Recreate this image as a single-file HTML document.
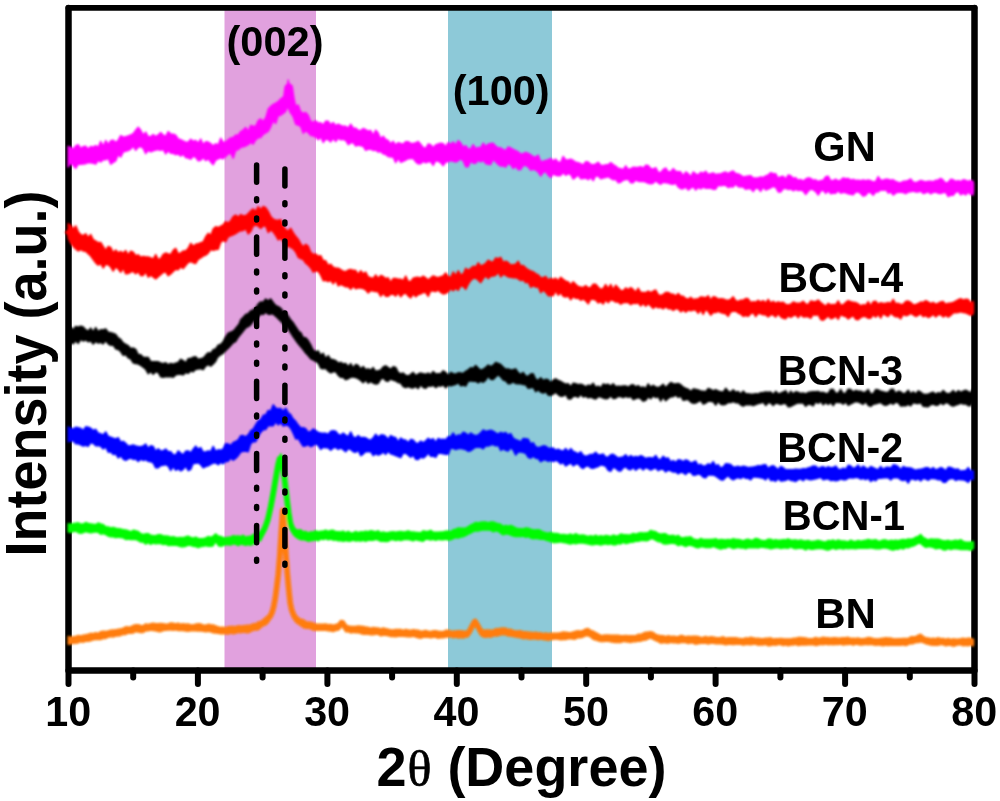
<!DOCTYPE html>
<html lang="en"><head><meta charset="utf-8"><title>XRD patterns</title>
<style>
html,body{margin:0;padding:0;background:#fff;}
body{width:1000px;height:801px;overflow:hidden;}
svg{display:block;}
text{font-family:"Liberation Sans",sans-serif;font-weight:bold;fill:#000;}
.th{font-family:"Liberation Serif","DejaVu Serif",serif;font-weight:normal;}
</style></head><body>
<svg width="1000" height="801" viewBox="0 0 1000 801">
<defs><filter id="soft" x="0" y="0" width="1000" height="801" filterUnits="userSpaceOnUse"><feGaussianBlur stdDeviation="0.8"/></filter></defs>
<rect x="0" y="0" width="1000" height="801" fill="#ffffff"/>
<rect x="224.5" y="8" width="91.5" height="662" fill="#e1a1de"/>
<rect x="448" y="8" width="104" height="662" fill="#8dc9d8"/>
<g stroke="#000" stroke-width="6.5" fill="none" stroke-linecap="round" stroke-linejoin="round">
<path d="M68.5 7.9V670.4H974.5V7.9"/>
<path d="M68.5 7.8H974.5" stroke-width="5.8"/>
</g>
<g filter="url(#soft)">
<path d="M68.2 640.0L69.7 640.0L71.2 639.9L72.7 639.7L74.2 639.6L75.7 639.4L77.2 639.3L78.7 639.1L80.2 639.0L81.7 638.8L83.2 638.7L84.7 638.5L86.2 638.3L87.7 638.0L89.2 637.7L90.7 637.4L92.2 637.1L93.7 636.8L95.2 636.5L96.7 636.2L98.2 635.9L99.7 635.6L101.2 635.3L102.7 635.0L104.2 634.7L105.7 634.4L107.2 634.1L108.7 633.8L110.2 633.5L111.7 633.2L113.2 632.9L114.7 632.6L116.2 632.3L117.7 632.0L119.2 631.7L120.7 631.4L122.2 631.1L123.7 630.8L125.2 630.6L126.7 630.3L128.2 630.1L129.7 629.8L131.2 629.6L132.7 629.4L134.2 629.1L135.7 628.9L137.2 628.7L138.7 628.6L140.2 628.4L141.7 628.2L143.2 628.0L144.7 627.8L146.2 627.7L147.7 627.5L149.2 627.5L150.7 627.5L152.2 627.5L153.7 627.5L155.2 627.5L156.7 627.5L158.2 627.5L159.7 627.5L161.2 627.4L162.7 627.3L164.2 627.2L165.7 627.0L167.2 626.9L168.7 626.8L170.2 626.7L171.7 626.6L173.2 626.6L174.7 626.7L176.2 626.8L177.7 626.9L179.2 627.0L180.7 627.2L182.2 627.3L183.7 627.4L185.2 627.5L186.7 627.5L188.2 627.5L189.7 627.5L191.2 627.5L192.7 627.5L194.2 627.5L195.7 627.5L197.2 627.5L198.7 627.6L200.2 627.7L201.7 627.8L203.2 628.0L204.7 628.1L206.2 628.2L207.7 628.3L209.2 628.4L210.7 628.6L212.2 628.8L213.7 628.9L215.2 629.1L216.7 629.3L218.2 629.5L219.7 629.7L221.2 629.8L222.7 630.0L224.2 630.0L225.7 630.0L227.2 630.0L228.7 630.0L230.2 630.0L231.7 630.0L233.2 630.0L234.7 630.0L236.2 629.9L237.7 629.7L239.2 629.5L240.7 629.3L242.2 629.1L243.7 629.0L245.2 628.8L246.7 628.6L248.2 628.3L249.7 627.9L251.2 627.5L252.7 627.1L254.2 626.7L255.7 626.3L257.2 625.9L258.7 625.1L260.2 624.4L261.7 623.6L263.2 622.7L264.7 621.6L266.2 620.6L267.7 619.2L269.2 617.5L270.7 615.5L272.2 611.9L273.7 606.5L275.2 598.5L276.7 587.3L278.2 574.8L279.7 557.1L281.2 533.7L282.7 510.5L284.2 530.0L285.7 551.5L287.2 572.4L288.7 588.9L290.2 603.0L291.7 610.1L293.2 614.1L294.7 617.2L296.2 618.9L297.7 620.7L299.2 621.7L300.7 622.6L302.2 623.5L303.7 624.2L305.2 624.6L306.7 625.1L308.2 625.5L309.7 625.9L311.2 626.2L312.7 626.5L314.2 626.8L315.7 627.1L317.2 627.4L318.7 627.5L320.2 627.6L321.7 627.6L323.2 627.6L324.7 627.7L326.2 627.7L327.7 627.7L329.2 627.8L330.7 627.8L332.2 627.9L333.7 627.9L335.2 627.9L336.7 628.0L338.2 627.7L339.7 625.5L341.2 623.2L342.7 623.1L344.2 625.6L345.7 628.0L347.2 628.6L348.7 628.8L350.2 628.9L351.7 629.1L353.2 629.2L354.7 629.4L356.2 629.6L357.7 629.7L359.2 629.9L360.7 630.0L362.2 630.2L363.7 630.3L365.2 630.5L366.7 630.7L368.2 630.8L369.7 631.0L371.2 631.1L372.7 631.2L374.2 631.3L375.7 631.4L377.2 631.5L378.7 631.6L380.2 631.7L381.7 631.8L383.2 631.9L384.7 632.0L386.2 632.2L387.7 632.3L389.2 632.4L390.7 632.5L392.2 632.6L393.7 632.7L395.2 632.8L396.7 632.9L398.2 633.0L399.7 633.1L401.2 633.2L402.7 633.3L404.2 633.4L405.7 633.5L407.2 633.6L408.7 633.6L410.2 633.6L411.7 633.7L413.2 633.7L414.7 633.8L416.2 633.8L417.7 633.9L419.2 633.9L420.7 633.9L422.2 634.0L423.7 634.0L425.2 634.1L426.7 634.1L428.2 634.2L429.7 634.2L431.2 634.2L432.7 634.3L434.2 634.3L435.7 634.4L437.2 634.4L438.7 634.5L440.2 634.5L441.7 634.5L443.2 634.4L444.7 634.4L446.2 634.4L447.7 634.4L449.2 634.3L450.7 634.3L452.2 634.3L453.7 634.3L455.2 634.2L456.7 634.2L458.2 634.2L459.7 634.1L461.2 634.1L462.7 634.1L464.2 634.1L465.7 634.0L467.2 634.0L468.7 632.7L470.2 629.9L471.7 627.1L473.2 624.3L474.7 621.6L476.2 623.2L477.7 626.0L479.2 628.8L480.7 631.6L482.2 634.0L483.7 633.9L485.2 633.8L486.7 633.6L488.2 633.5L489.7 633.4L491.2 633.3L492.7 633.2L494.2 633.1L495.7 632.8L497.2 632.5L498.7 632.1L500.2 631.7L501.7 631.3L503.2 631.1L504.7 631.5L506.2 632.0L507.7 632.5L509.2 632.9L510.7 633.4L512.2 633.6L513.7 633.8L515.2 633.9L516.7 634.1L518.2 634.3L519.7 634.4L521.2 634.6L522.7 634.7L524.2 634.9L525.7 635.0L527.2 635.2L528.7 635.3L530.2 635.5L531.7 635.6L533.2 635.8L534.7 635.9L536.2 636.1L537.7 636.3L539.2 636.4L540.7 636.6L542.2 636.7L543.7 636.9L545.2 637.0L546.7 636.9L548.2 636.8L549.7 636.7L551.2 636.7L552.7 636.6L554.2 636.5L555.7 636.4L557.2 636.3L558.7 636.3L560.2 636.2L561.7 636.1L563.2 636.0L564.7 635.9L566.2 635.9L567.7 635.8L569.2 635.7L570.7 635.6L572.2 635.5L573.7 635.4L575.2 635.0L576.7 634.7L578.2 634.4L579.7 634.1L581.2 633.6L582.7 633.0L584.2 632.5L585.7 632.0L587.2 631.6L588.7 632.6L590.2 633.6L591.7 634.5L593.2 635.5L594.7 636.2L596.2 636.7L597.7 637.2L599.2 637.7L600.7 638.0L602.2 638.1L603.7 638.2L605.2 638.3L606.7 638.4L608.2 638.5L609.7 638.6L611.2 638.7L612.7 638.8L614.2 638.9L615.7 639.0L617.2 638.9L618.7 638.9L620.2 638.8L621.7 638.7L623.2 638.7L624.7 638.6L626.2 638.6L627.7 638.5L629.2 638.4L630.7 638.4L632.2 638.3L633.7 638.3L635.2 638.2L636.7 638.1L638.2 638.1L639.7 638.0L641.2 637.7L642.7 637.2L644.2 636.8L645.7 636.4L647.2 635.9L648.7 635.5L650.2 635.1L651.7 635.5L653.2 636.0L654.7 636.6L656.2 637.2L657.7 637.7L659.2 638.3L660.7 638.9L662.2 639.0L663.7 639.1L665.2 639.1L666.7 639.2L668.2 639.2L669.7 639.3L671.2 639.3L672.7 639.4L674.2 639.4L675.7 639.5L677.2 639.5L678.7 639.5L680.2 639.6L681.7 639.6L683.2 639.7L684.7 639.7L686.2 639.8L687.7 639.8L689.2 639.9L690.7 639.9L692.2 640.0L693.7 640.0L695.2 640.0L696.7 640.1L698.2 640.1L699.7 640.2L701.2 640.2L702.7 640.3L704.2 640.3L705.7 640.4L707.2 640.4L708.7 640.5L710.2 640.5L711.7 640.5L713.2 640.5L714.7 640.6L716.2 640.6L717.7 640.6L719.2 640.6L720.7 640.7L722.2 640.7L723.7 640.7L725.2 640.7L726.7 640.7L728.2 640.8L729.7 640.8L731.2 640.8L732.7 640.8L734.2 640.8L735.7 640.9L737.2 640.9L738.7 640.9L740.2 640.9L741.7 641.0L743.2 641.0L744.7 641.0L746.2 641.0L747.7 641.0L749.2 641.1L750.7 641.1L752.2 641.1L753.7 641.1L755.2 641.1L756.7 641.2L758.2 641.2L759.7 641.2L761.2 641.2L762.7 641.3L764.2 641.3L765.7 641.3L767.2 641.3L768.7 641.3L770.2 641.4L771.7 641.4L773.2 641.4L774.7 641.4L776.2 641.4L777.7 641.5L779.2 641.5L780.7 641.5L782.2 641.5L783.7 641.5L785.2 641.5L786.7 641.5L788.2 641.5L789.7 641.5L791.2 641.5L792.7 641.5L794.2 641.5L795.7 641.5L797.2 641.5L798.7 641.5L800.2 641.5L801.7 641.5L803.2 641.5L804.7 641.5L806.2 641.5L807.7 641.5L809.2 641.5L810.7 641.5L812.2 641.5L813.7 641.5L815.2 641.5L816.7 641.5L818.2 641.5L819.7 641.5L821.2 641.5L822.7 641.5L824.2 641.5L825.7 641.5L827.2 641.5L828.7 641.5L830.2 641.5L831.7 641.5L833.2 641.5L834.7 641.5L836.2 641.5L837.7 641.5L839.2 641.5L840.7 641.5L842.2 641.5L843.7 641.5L845.2 641.5L846.7 641.5L848.2 641.5L849.7 641.5L851.2 641.5L852.7 641.5L854.2 641.5L855.7 641.5L857.2 641.5L858.7 641.5L860.2 641.5L861.7 641.5L863.2 641.5L864.7 641.5L866.2 641.5L867.7 641.5L869.2 641.5L870.7 641.5L872.2 641.5L873.7 641.5L875.2 641.5L876.7 641.5L878.2 641.5L879.7 641.5L881.2 641.5L882.7 641.5L884.2 641.5L885.7 641.5L887.2 641.5L888.7 641.5L890.2 641.5L891.7 641.5L893.2 641.5L894.7 641.5L896.2 641.5L897.7 641.5L899.2 641.5L900.7 641.5L902.2 641.5L903.7 641.5L905.2 641.5L906.7 641.4L908.2 641.1L909.7 640.8L911.2 640.5L912.7 640.2L914.2 639.9L915.7 639.3L917.2 638.7L918.7 638.0L920.2 637.6L921.7 638.4L923.2 639.1L924.7 639.9L926.2 640.5L927.7 640.8L929.2 641.0L930.7 641.3L932.2 641.5L933.7 641.5L935.2 641.5L936.7 641.6L938.2 641.6L939.7 641.6L941.2 641.6L942.7 641.6L944.2 641.6L945.7 641.7L947.2 641.7L948.7 641.7L950.2 641.7L951.7 641.7L953.2 641.7L954.7 641.8L956.2 641.8L957.7 641.8L959.2 641.8L960.7 641.8L962.2 641.9L963.7 641.9L965.2 641.9L966.7 641.9L968.2 641.9L969.7 641.9L971.2 642.0L972.7 642.0L974.2 642.0" fill="none" stroke="#ff7d0a" stroke-width="5.6" stroke-linejoin="round" stroke-linecap="butt"/>
<path d="M68.2 636.4L70.7 637.2L73.2 636.7L75.7 636.5L78.2 635.5L80.7 635.9L83.2 635.2L85.7 634.8L88.2 634.2L90.7 633.3L93.2 633.7L95.7 632.6L98.2 633.3L100.7 631.7L103.2 631.1L105.7 631.4L108.2 630.9L110.7 630.1L113.2 630.0L115.7 629.9L118.2 629.3L120.7 628.9L123.2 628.1L125.7 626.8L128.2 627.0L130.7 626.9L133.2 625.3L135.7 624.6L138.2 624.6L140.7 625.4L143.2 625.6L145.7 623.9L148.2 624.4L150.7 623.8L153.2 623.2L155.7 623.6L158.2 623.7L160.7 623.5L163.2 623.7L165.7 624.1L168.2 624.0L170.7 623.0L173.2 623.2L175.7 624.0L178.2 623.1L180.7 624.3L183.2 623.7L185.7 624.1L188.2 624.0L190.7 624.9L193.2 624.9L195.7 624.2L198.2 623.6L200.7 623.9L203.2 625.2L205.7 625.2L208.2 624.3L210.7 624.7L213.2 625.0L215.7 625.8L218.2 626.8L220.7 627.5L223.2 627.3L225.7 627.7L228.2 626.6L230.7 626.5L233.2 626.4L235.7 626.6L238.2 625.7L240.7 625.9L243.2 625.8L245.7 625.5L248.2 625.3L250.7 625.1L253.2 623.7L255.7 623.8L258.2 621.9L260.7 621.4L263.2 619.6L265.7 617.4L268.2 615.4L270.7 612.1L273.2 606.0L275.7 590.9L278.2 571.4L280.7 537.9L283.2 513.4L285.7 547.5L288.2 580.5L290.7 602.4L293.2 610.7L295.7 614.7L298.2 617.5L300.7 619.1L303.2 619.5L305.7 621.5L308.2 622.2L310.7 622.2L313.2 622.9L315.7 623.9L318.2 624.1L320.7 624.1L323.2 624.1L325.7 623.9L328.2 624.7L330.7 624.5L333.2 625.1L335.7 624.5L338.2 623.7L340.7 620.4L343.2 621.0L345.7 624.7L348.2 625.9L350.7 626.2L353.2 626.4L355.7 626.5L358.2 625.9L360.7 626.1L363.2 626.5L365.7 627.0L368.2 627.3L370.7 628.1L373.2 627.4L375.7 627.7L378.2 627.9L380.7 628.8L383.2 628.0L385.7 628.6L388.2 629.2L390.7 629.9L393.2 630.0L395.7 629.5L398.2 629.4L400.7 629.5L403.2 630.5L405.7 629.4L408.2 630.0L410.7 630.3L413.2 629.6L415.7 629.9L418.2 630.1L420.7 631.3L423.2 631.0L425.7 630.3L428.2 631.1L430.7 631.5L433.2 630.8L435.7 630.7L438.2 631.2L440.7 631.4L443.2 631.6L445.7 630.3L448.2 630.1L450.7 631.0L453.2 631.1L455.7 630.9L458.2 630.8L460.7 630.8L463.2 631.1L465.7 631.2L468.2 630.9L470.7 625.2L473.2 621.0L475.7 619.1L478.2 622.9L480.7 627.4L483.2 630.5L485.7 630.0L488.2 630.0L490.7 630.2L493.2 630.1L495.7 628.7L498.2 628.8L500.7 628.3L503.2 627.9L505.7 628.1L508.2 629.4L510.7 629.1L513.2 630.3L515.7 631.0L518.2 630.9L520.7 630.6L523.2 631.8L525.7 631.6L528.2 632.2L530.7 632.2L533.2 632.6L535.7 632.2L538.2 633.0L540.7 632.7L543.2 633.6L545.7 633.0L548.2 633.7L550.7 633.3L553.2 633.3L555.7 633.2L558.2 633.0L560.7 632.7L563.2 631.9L565.7 632.2L568.2 632.5L570.7 632.6L573.2 631.9L575.7 631.3L578.2 630.8L580.7 631.2L583.2 630.4L585.7 628.9L588.2 628.5L590.7 630.3L593.2 631.2L595.7 632.5L598.2 633.8L600.7 635.4L603.2 635.2L605.7 634.9L608.2 634.9L610.7 635.2L613.2 635.1L615.7 635.3L618.2 635.3L620.7 635.6L623.2 635.6L625.7 635.4L628.2 635.8L630.7 635.6L633.2 635.7L635.7 635.6L638.2 634.3L640.7 634.5L643.2 633.2L645.7 632.1L648.2 632.0L650.7 631.7L653.2 632.4L655.7 634.3L658.2 635.1L660.7 635.4L663.2 635.6L665.7 636.7L668.2 635.6L670.7 636.5L673.2 636.1L675.7 636.5L678.2 636.6L680.7 635.5L683.2 635.8L685.7 636.8L688.2 636.2L690.7 636.5L693.2 636.2L695.7 636.3L698.2 636.5L700.7 637.4L703.2 637.1L705.7 636.5L708.2 637.4L710.7 636.6L713.2 636.9L715.7 637.4L718.2 637.8L720.7 637.4L723.2 636.8L725.7 638.2L728.2 637.6L730.7 637.6L733.2 637.8L735.7 637.6L738.2 638.2L740.7 638.5L743.2 638.7L745.7 637.8L748.2 638.1L750.7 637.1L753.2 637.8L755.7 638.4L758.2 638.3L760.7 638.8L763.2 638.8L765.7 638.3L768.2 638.3L770.7 637.8L773.2 639.2L775.7 638.8L778.2 638.8L780.7 638.4L783.2 638.8L785.7 639.0L788.2 639.0L790.7 639.0L793.2 638.3L795.7 638.3L798.2 637.5L800.7 637.5L803.2 637.6L805.7 637.9L808.2 638.6L810.7 638.8L813.2 638.4L815.7 637.5L818.2 638.3L820.7 637.9L823.2 637.2L825.7 637.8L828.2 637.8L830.7 638.1L833.2 637.8L835.7 637.7L838.2 638.1L840.7 637.9L843.2 637.8L845.7 637.7L848.2 637.3L850.7 638.5L853.2 638.1L855.7 638.4L858.2 637.9L860.7 638.8L863.2 638.8L865.7 638.2L868.2 637.5L870.7 637.8L873.2 638.4L875.7 638.7L878.2 638.9L880.7 638.4L883.2 638.1L885.7 637.8L888.2 638.0L890.7 638.0L893.2 638.8L895.7 638.9L898.2 638.7L900.7 638.8L903.2 638.5L905.7 638.4L908.2 638.5L910.7 636.8L913.2 636.8L915.7 636.7L918.2 635.1L920.7 634.2L923.2 636.4L925.7 637.9L928.2 638.0L930.7 638.7L933.2 638.2L935.7 638.7L938.2 637.6L940.7 638.7L943.2 638.4L945.7 639.5L948.2 638.5L950.7 639.5L953.2 638.8L955.7 639.1L958.2 639.2L960.7 638.7L963.2 638.1L965.7 638.8L968.2 638.2L970.7 638.3L973.2 639.1L973.2 646.0L970.7 644.9L968.2 645.8L965.7 645.3L963.2 645.8L960.7 644.8L958.2 644.9L955.7 645.6L953.2 646.3L950.7 645.2L948.2 645.0L945.7 645.8L943.2 644.7L940.7 644.4L938.2 645.3L935.7 645.3L933.2 645.2L930.7 645.0L928.2 644.3L925.7 643.7L923.2 642.5L920.7 641.8L918.2 642.6L915.7 642.6L913.2 643.7L910.7 643.7L908.2 644.5L905.7 645.7L903.2 644.9L900.7 645.4L898.2 645.4L895.7 645.0L893.2 645.4L890.7 645.1L888.2 645.6L885.7 645.0L883.2 645.9L880.7 645.4L878.2 644.9L875.7 645.4L873.2 644.8L870.7 644.3L868.2 644.7L865.7 644.3L863.2 644.8L860.7 645.0L858.2 644.5L855.7 644.0L853.2 645.2L850.7 644.0L848.2 644.5L845.7 644.6L843.2 645.0L840.7 644.0L838.2 644.6L835.7 644.3L833.2 644.8L830.7 644.4L828.2 644.9L825.7 644.2L823.2 644.9L820.7 644.4L818.2 645.0L815.7 645.5L813.2 644.7L810.7 644.9L808.2 644.8L805.7 645.0L803.2 645.0L800.7 645.1L798.2 645.5L795.7 644.4L793.2 645.0L790.7 645.1L788.2 645.9L785.7 644.9L783.2 645.5L780.7 644.5L778.2 644.6L775.7 645.2L773.2 644.9L770.7 645.5L768.2 645.8L765.7 644.3L763.2 645.1L760.7 644.9L758.2 645.3L755.7 644.1L753.2 644.4L750.7 644.8L748.2 644.6L745.7 644.5L743.2 645.2L740.7 644.3L738.2 644.2L735.7 644.4L733.2 644.6L730.7 644.2L728.2 644.4L725.7 644.8L723.2 644.0L720.7 643.7L718.2 643.9L715.7 643.9L713.2 643.0L710.7 643.2L708.2 644.1L705.7 643.2L703.2 643.4L700.7 643.3L698.2 643.7L695.7 644.4L693.2 643.1L690.7 642.9L688.2 643.5L685.7 642.5L683.2 642.2L680.7 642.5L678.2 643.4L675.7 642.7L673.2 642.7L670.7 642.4L668.2 643.2L665.7 642.8L663.2 642.6L660.7 643.2L658.2 641.7L655.7 640.7L653.2 639.4L650.7 637.8L648.2 638.9L645.7 640.0L643.2 640.3L640.7 641.2L638.2 641.1L635.7 641.8L633.2 641.6L630.7 642.5L628.2 642.1L625.7 641.9L623.2 641.3L620.7 642.6L618.2 642.3L615.7 642.6L613.2 642.2L610.7 641.8L608.2 641.4L605.7 641.2L603.2 641.6L600.7 641.6L598.2 640.9L595.7 640.0L593.2 639.4L590.7 637.0L588.2 635.8L585.7 635.6L583.2 637.1L580.7 637.7L578.2 637.5L575.7 639.0L573.2 639.2L570.7 638.5L568.2 638.8L565.7 639.5L563.2 639.6L560.7 639.8L558.2 639.4L555.7 638.9L553.2 639.3L550.7 639.7L548.2 640.5L545.7 639.6L543.2 639.7L540.7 638.9L538.2 639.5L535.7 639.1L533.2 638.7L530.7 639.2L528.2 639.1L525.7 638.3L523.2 638.9L520.7 637.9L518.2 637.6L515.7 637.0L513.2 636.5L510.7 636.0L508.2 636.0L505.7 634.8L503.2 634.9L500.7 634.8L498.2 635.8L495.7 636.1L493.2 636.1L490.7 637.3L488.2 636.8L485.7 637.4L483.2 637.0L480.7 634.0L478.2 630.7L475.7 625.2L473.2 627.4L470.7 632.5L468.2 636.8L465.7 637.1L463.2 638.0L460.7 637.5L458.2 638.1L455.7 637.1L453.2 637.8L450.7 636.7L448.2 637.0L445.7 637.1L443.2 637.8L440.7 637.7L438.2 638.4L435.7 637.3L433.2 637.2L430.7 637.8L428.2 637.2L425.7 637.2L423.2 637.4L420.7 638.3L418.2 637.9L415.7 637.1L413.2 636.2L410.7 636.8L408.2 636.9L405.7 636.6L403.2 636.3L400.7 636.4L398.2 636.2L395.7 636.8L393.2 636.5L390.7 636.6L388.2 635.7L385.7 635.3L383.2 635.3L380.7 635.8L378.2 634.4L375.7 634.3L373.2 634.9L370.7 634.8L368.2 634.3L365.7 634.0L363.2 634.2L360.7 633.6L358.2 632.7L355.7 632.7L353.2 632.3L350.7 633.0L348.2 631.6L345.7 631.9L343.2 626.6L340.7 626.5L338.2 630.1L335.7 630.5L333.2 631.5L330.7 631.1L328.2 630.8L325.7 630.3L323.2 630.3L320.7 630.3L318.2 630.4L315.7 630.4L313.2 630.2L310.7 628.8L308.2 628.3L305.7 628.4L303.2 627.5L300.7 625.6L298.2 623.9L295.7 622.1L293.2 618.2L290.7 609.1L288.2 586.6L285.7 553.9L283.2 519.8L280.7 545.1L278.2 578.2L275.7 598.0L273.2 611.8L270.7 618.3L268.2 622.7L265.7 624.9L263.2 625.8L260.7 627.7L258.2 629.9L255.7 630.1L253.2 630.4L250.7 631.6L248.2 632.8L245.7 632.6L243.2 632.1L240.7 632.9L238.2 632.3L235.7 633.3L233.2 633.9L230.7 633.1L228.2 634.1L225.7 633.9L223.2 633.5L220.7 633.8L218.2 633.2L215.7 633.0L213.2 632.9L210.7 631.8L208.2 631.4L205.7 631.7L203.2 631.2L200.7 630.9L198.2 631.1L195.7 630.9L193.2 630.7L190.7 630.8L188.2 631.3L185.7 631.0L183.2 630.5L180.7 630.3L178.2 630.5L175.7 629.8L173.2 630.2L170.7 629.7L168.2 630.0L165.7 630.2L163.2 630.6L160.7 631.7L158.2 631.6L155.7 630.9L153.2 630.5L150.7 630.1L148.2 630.9L145.7 630.9L143.2 632.5L140.7 632.6L138.2 632.1L135.7 631.5L133.2 633.1L130.7 633.2L128.2 633.2L125.7 634.5L123.2 634.2L120.7 635.6L118.2 636.0L115.7 636.1L113.2 637.1L110.7 636.6L108.2 637.2L105.7 638.5L103.2 638.3L100.7 639.6L98.2 639.5L95.7 639.5L93.2 639.9L90.7 640.8L88.2 641.4L85.7 641.2L83.2 642.3L80.7 641.7L78.2 642.9L75.7 643.4L73.2 643.2L70.7 644.0L68.2 644.2Z" fill="#ff7d0a" stroke="#ff7d0a" stroke-width="1.4" stroke-linejoin="round"/>
<path d="M68.2 527.5L69.7 527.5L71.2 527.5L72.7 527.5L74.2 527.5L75.7 527.5L77.2 527.5L78.7 527.5L80.2 527.5L81.7 527.5L83.2 527.5L84.7 527.5L86.2 527.6L87.7 527.7L89.2 527.8L90.7 528.0L92.2 528.1L93.7 528.2L95.2 528.3L96.7 528.4L98.2 528.6L99.7 528.9L101.2 529.2L102.7 529.5L104.2 529.8L105.7 530.1L107.2 530.4L108.7 530.7L110.2 531.0L111.7 531.3L113.2 531.6L114.7 531.9L116.2 532.2L117.7 532.5L119.2 532.8L120.7 533.1L122.2 533.4L123.7 533.7L125.2 534.0L126.7 534.3L128.2 534.6L129.7 534.9L131.2 535.2L132.7 535.5L134.2 535.8L135.7 536.1L137.2 536.4L138.7 536.7L140.2 537.0L141.7 537.3L143.2 537.6L144.7 537.9L146.2 538.2L147.7 538.5L149.2 538.7L150.7 538.9L152.2 539.1L153.7 539.2L155.2 539.4L156.7 539.6L158.2 539.8L159.7 540.0L161.2 540.1L162.7 540.2L164.2 540.3L165.7 540.5L167.2 540.6L168.7 540.7L170.2 540.8L171.7 540.9L173.2 541.0L174.7 541.1L176.2 541.1L177.7 541.2L179.2 541.3L180.7 541.3L182.2 541.4L183.7 541.4L185.2 541.5L186.7 541.6L188.2 541.8L189.7 541.9L191.2 542.0L192.7 542.1L194.2 542.2L195.7 542.4L197.2 542.5L198.7 542.4L200.2 542.3L201.7 542.2L203.2 542.0L204.7 541.9L206.2 541.8L207.7 541.7L209.2 541.6L210.7 541.4L212.2 541.2L213.7 541.0L215.2 538.6L216.7 538.4L218.2 541.0L219.7 541.2L221.2 541.4L222.7 541.5L224.2 541.4L225.7 541.4L227.2 541.3L228.7 541.3L230.2 541.2L231.7 541.1L233.2 541.1L234.7 541.0L236.2 541.0L237.7 540.9L239.2 540.8L240.7 540.8L242.2 540.7L243.7 540.7L245.2 540.6L246.7 540.5L248.2 540.4L249.7 540.1L251.2 539.8L252.7 539.5L254.2 539.2L255.7 538.6L257.2 537.7L258.7 536.8L260.2 535.7L261.7 533.5L263.2 531.2L264.7 528.2L266.2 524.3L267.7 520.1L269.2 513.6L270.7 506.9L272.2 498.9L273.7 490.8L275.2 481.8L276.7 472.9L278.2 464.5L279.7 458.5L281.2 458.2L282.7 463.6L284.2 475.6L285.7 488.8L287.2 501.5L288.7 513.2L290.2 522.9L291.7 527.2L293.2 530.3L294.7 532.0L296.2 533.6L297.7 534.0L299.2 534.5L300.7 534.9L302.2 535.4L303.7 535.6L305.2 535.7L306.7 535.8L308.2 535.9L309.7 536.0L311.2 535.9L312.7 535.8L314.2 535.7L315.7 535.6L317.2 535.5L318.7 535.4L320.2 535.3L321.7 535.2L323.2 535.1L324.7 535.0L326.2 535.0L327.7 535.1L329.2 535.2L330.7 535.2L332.2 535.3L333.7 535.3L335.2 535.4L336.7 535.5L338.2 535.5L339.7 535.6L341.2 535.6L342.7 535.7L344.2 535.8L345.7 535.8L347.2 535.9L348.7 535.9L350.2 536.0L351.7 536.0L353.2 536.1L354.7 536.1L356.2 536.1L357.7 536.2L359.2 536.2L360.7 536.2L362.2 536.2L363.7 536.3L365.2 536.3L366.7 536.3L368.2 536.4L369.7 536.4L371.2 536.4L372.7 536.5L374.2 536.5L375.7 536.5L377.2 536.5L378.7 536.5L380.2 536.5L381.7 536.5L383.2 536.5L384.7 536.5L386.2 536.5L387.7 536.5L389.2 536.5L390.7 536.5L392.2 536.5L393.7 536.5L395.2 536.5L396.7 536.5L398.2 536.5L399.7 536.5L401.2 536.5L402.7 536.4L404.2 536.4L405.7 536.4L407.2 536.4L408.7 536.3L410.2 536.3L411.7 536.3L413.2 536.2L414.7 536.2L416.2 536.2L417.7 536.1L419.2 536.1L420.7 536.1L422.2 536.1L423.7 536.0L425.2 536.0L426.7 535.9L428.2 535.9L429.7 535.8L431.2 535.8L432.7 535.7L434.2 535.6L435.7 535.6L437.2 535.5L438.7 535.5L440.2 535.4L441.7 535.3L443.2 535.3L444.7 535.2L446.2 535.2L447.7 535.1L449.2 535.0L450.7 534.9L452.2 534.6L453.7 534.3L455.2 534.0L456.7 533.7L458.2 533.4L459.7 533.1L461.2 532.8L462.7 532.4L464.2 531.8L465.7 531.2L467.2 530.6L468.7 530.0L470.2 529.4L471.7 528.8L473.2 528.2L474.7 527.6L476.2 527.2L477.7 526.8L479.2 526.5L480.7 526.1L482.2 525.7L483.7 525.3L485.2 525.0L486.7 525.4L488.2 525.7L489.7 526.1L491.2 526.4L492.7 526.8L494.2 527.1L495.7 527.5L497.2 527.8L498.7 528.2L500.2 528.5L501.7 528.8L503.2 529.1L504.7 529.4L506.2 529.7L507.7 530.0L509.2 530.3L510.7 530.6L512.2 530.9L513.7 531.2L515.2 531.5L516.7 531.8L518.2 532.1L519.7 532.4L521.2 532.7L522.7 533.0L524.2 533.3L525.7 533.6L527.2 533.8L528.7 533.9L530.2 534.1L531.7 534.3L533.2 534.5L534.7 534.7L536.2 534.8L537.7 535.0L539.2 535.2L540.7 535.4L542.2 535.6L543.7 535.7L545.2 535.9L546.7 536.1L548.2 536.3L549.7 536.5L551.2 536.7L552.7 536.9L554.2 537.1L555.7 537.3L557.2 537.5L558.7 537.7L560.2 537.9L561.7 538.1L563.2 538.3L564.7 538.5L566.2 538.6L567.7 538.7L569.2 538.8L570.7 538.8L572.2 538.9L573.7 539.0L575.2 539.1L576.7 539.2L578.2 539.3L579.7 539.4L581.2 539.5L582.7 539.6L584.2 539.7L585.7 539.7L587.2 539.8L588.7 539.9L590.2 540.0L591.7 540.0L593.2 540.0L594.7 540.0L596.2 540.0L597.7 540.0L599.2 540.0L600.7 540.0L602.2 540.0L603.7 540.0L605.2 540.0L606.7 540.0L608.2 540.0L609.7 540.0L611.2 540.0L612.7 540.0L614.2 540.0L615.7 539.9L617.2 539.7L618.7 539.5L620.2 539.3L621.7 539.1L623.2 538.9L624.7 538.6L626.2 538.4L627.7 538.2L629.2 538.0L630.7 537.8L632.2 537.6L633.7 537.4L635.2 537.2L636.7 537.0L638.2 536.8L639.7 536.5L641.2 536.4L642.7 536.2L644.2 536.0L645.7 535.8L647.2 535.6L648.7 535.5L650.2 535.3L651.7 535.1L653.2 535.2L654.7 535.6L656.2 536.0L657.7 536.5L659.2 536.9L660.7 537.3L662.2 537.7L663.7 538.1L665.2 538.5L666.7 538.8L668.2 539.0L669.7 539.3L671.2 539.5L672.7 539.7L674.2 540.0L675.7 540.2L677.2 540.5L678.7 540.7L680.2 540.9L681.7 541.2L683.2 541.4L684.7 541.7L686.2 541.9L687.7 542.1L689.2 542.4L690.7 542.5L692.2 542.6L693.7 542.6L695.2 542.7L696.7 542.8L698.2 542.8L699.7 542.9L701.2 542.9L702.7 543.0L704.2 543.1L705.7 543.1L707.2 543.2L708.7 543.2L710.2 543.3L711.7 543.4L713.2 543.4L714.7 543.5L716.2 543.5L717.7 543.6L719.2 543.6L720.7 543.6L722.2 543.6L723.7 543.7L725.2 543.7L726.7 543.7L728.2 543.8L729.7 543.8L731.2 543.8L732.7 543.9L734.2 543.9L735.7 543.9L737.2 543.9L738.7 544.0L740.2 544.0L741.7 544.0L743.2 544.0L744.7 544.0L746.2 544.0L747.7 544.0L749.2 544.0L750.7 544.0L752.2 544.0L753.7 544.0L755.2 544.0L756.7 544.0L758.2 544.0L759.7 544.0L761.2 544.0L762.7 544.0L764.2 544.0L765.7 544.0L767.2 544.0L768.7 544.0L770.2 544.0L771.7 544.0L773.2 544.0L774.7 544.0L776.2 544.0L777.7 544.0L779.2 544.0L780.7 544.0L782.2 544.0L783.7 544.0L785.2 544.0L786.7 544.0L788.2 544.0L789.7 544.0L791.2 544.0L792.7 544.1L794.2 544.1L795.7 544.2L797.2 544.2L798.7 544.2L800.2 544.3L801.7 544.3L803.2 544.4L804.7 544.4L806.2 544.5L807.7 544.5L809.2 544.5L810.7 544.6L812.2 544.6L813.7 544.7L815.2 544.7L816.7 544.8L818.2 544.8L819.7 544.8L821.2 544.9L822.7 544.9L824.2 545.0L825.7 545.0L827.2 545.0L828.7 545.0L830.2 545.0L831.7 545.0L833.2 545.0L834.7 545.0L836.2 545.0L837.7 545.0L839.2 545.0L840.7 545.0L842.2 545.0L843.7 545.0L845.2 545.0L846.7 545.0L848.2 545.0L849.7 545.0L851.2 545.0L852.7 545.0L854.2 545.0L855.7 545.0L857.2 545.0L858.7 545.0L860.2 545.0L861.7 545.0L863.2 545.0L864.7 545.0L866.2 545.0L867.7 545.0L869.2 545.0L870.7 545.0L872.2 545.0L873.7 545.0L875.2 545.0L876.7 545.0L878.2 545.0L879.7 545.0L881.2 545.0L882.7 545.0L884.2 545.0L885.7 545.0L887.2 545.0L888.7 545.0L890.2 545.0L891.7 545.0L893.2 545.0L894.7 545.0L896.2 545.0L897.7 545.0L899.2 545.0L900.7 544.9L902.2 544.6L903.7 544.3L905.2 544.0L906.7 543.7L908.2 543.4L909.7 543.1L911.2 542.8L912.7 542.4L914.2 541.7L915.7 541.0L917.2 540.3L918.7 539.6L920.2 539.1L921.7 540.0L923.2 540.9L924.7 541.8L926.2 542.7L927.7 543.5L929.2 543.7L930.7 543.9L932.2 544.1L933.7 544.2L935.2 544.4L936.7 544.6L938.2 544.8L939.7 545.0L941.2 545.0L942.7 545.0L944.2 545.0L945.7 545.0L947.2 545.0L948.7 545.0L950.2 545.0L951.7 545.0L953.2 545.0L954.7 545.0L956.2 545.0L957.7 545.0L959.2 545.0L960.7 545.0L962.2 545.0L963.7 545.0L965.2 545.0L966.7 545.0L968.2 545.0L969.7 545.0L971.2 545.0L972.7 545.0L974.2 545.0" fill="none" stroke="#02fa02" stroke-width="5.8" stroke-linejoin="round" stroke-linecap="butt"/>
<path d="M68.2 523.6L70.7 524.1L73.2 523.6L75.7 523.3L78.2 522.8L80.7 524.1L83.2 524.0L85.7 522.5L88.2 523.5L90.7 523.9L93.2 524.3L95.7 524.6L98.2 523.0L100.7 523.9L103.2 524.6L105.7 526.7L108.2 526.9L110.7 528.0L113.2 527.3L115.7 528.1L118.2 528.8L120.7 529.0L123.2 529.8L125.7 530.0L128.2 530.6L130.7 531.9L133.2 530.3L135.7 530.8L138.2 531.5L140.7 533.6L143.2 534.5L145.7 533.8L148.2 533.7L150.7 535.3L153.2 535.8L155.7 535.6L158.2 534.7L160.7 534.7L163.2 535.9L165.7 535.9L168.2 536.1L170.7 537.1L173.2 536.7L175.7 537.5L178.2 537.8L180.7 537.4L183.2 537.7L185.7 536.8L188.2 536.2L190.7 537.3L193.2 538.1L195.7 537.1L198.2 538.4L200.7 538.7L203.2 538.6L205.7 537.9L208.2 536.5L210.7 537.4L213.2 536.0L215.7 533.9L218.2 536.0L220.7 536.5L223.2 537.7L225.7 537.6L228.2 537.1L230.7 536.9L233.2 535.7L235.7 536.1L238.2 535.9L240.7 536.5L243.2 535.2L245.7 537.2L248.2 536.4L250.7 536.2L253.2 534.5L255.7 533.8L258.2 533.4L260.7 531.2L263.2 527.5L265.7 522.1L268.2 513.4L270.7 501.7L273.2 489.7L275.7 474.1L278.2 461.5L280.7 453.7L283.2 463.0L285.7 484.2L288.2 505.4L290.7 519.9L293.2 525.9L295.7 529.3L298.2 530.1L300.7 529.7L303.2 531.7L305.7 531.4L308.2 533.0L310.7 531.9L313.2 532.0L315.7 530.7L318.2 531.8L320.7 531.1L323.2 531.1L325.7 530.1L328.2 531.4L330.7 530.4L333.2 530.3L335.7 531.7L338.2 531.6L340.7 532.0L343.2 531.1L345.7 532.9L348.2 531.3L350.7 532.9L353.2 532.9L355.7 531.4L358.2 532.6L360.7 531.7L363.2 531.9L365.7 531.1L368.2 531.7L370.7 530.7L373.2 531.3L375.7 531.9L378.2 530.7L380.7 532.7L383.2 531.9L385.7 532.7L388.2 532.5L390.7 532.0L393.2 531.7L395.7 532.3L398.2 531.7L400.7 531.5L403.2 531.9L405.7 531.6L408.2 530.8L410.7 532.0L413.2 531.9L415.7 532.2L418.2 532.4L420.7 532.9L423.2 530.8L425.7 531.5L428.2 531.4L430.7 530.3L433.2 532.0L435.7 532.1L438.2 532.1L440.7 532.0L443.2 531.9L445.7 531.1L448.2 531.0L450.7 531.8L453.2 529.7L455.7 529.3L458.2 527.9L460.7 528.2L463.2 528.3L465.7 528.2L468.2 526.7L470.7 525.0L473.2 523.8L475.7 522.4L478.2 523.0L480.7 522.1L483.2 522.0L485.7 521.9L488.2 523.0L490.7 522.0L493.2 521.9L495.7 522.8L498.2 523.8L500.7 524.3L503.2 526.3L505.7 525.5L508.2 526.1L510.7 525.4L513.2 526.4L515.7 527.8L518.2 528.7L520.7 528.6L523.2 528.9L525.7 528.0L528.2 528.2L530.7 529.2L533.2 530.0L535.7 529.9L538.2 529.7L540.7 530.5L543.2 532.0L545.7 532.7L548.2 533.1L550.7 532.3L553.2 533.5L555.7 533.4L558.2 533.7L560.7 534.8L563.2 534.4L565.7 534.8L568.2 534.9L570.7 534.0L573.2 535.3L575.7 533.7L578.2 534.9L580.7 535.1L583.2 534.9L585.7 535.7L588.2 536.4L590.7 535.7L593.2 536.5L595.7 535.1L598.2 536.7L600.7 535.6L603.2 536.3L605.7 535.5L608.2 535.8L610.7 536.5L613.2 535.0L615.7 535.9L618.2 535.7L620.7 534.0L623.2 534.4L625.7 534.7L628.2 535.0L630.7 534.7L633.2 533.4L635.7 534.2L638.2 533.3L640.7 532.7L643.2 532.9L645.7 532.8L648.2 532.5L650.7 530.4L653.2 531.3L655.7 531.8L658.2 533.4L660.7 534.2L663.2 533.7L665.7 533.7L668.2 535.5L670.7 535.7L673.2 535.3L675.7 536.4L678.2 535.4L680.7 537.5L683.2 538.0L685.7 537.1L688.2 537.3L690.7 536.7L693.2 538.9L695.7 539.5L698.2 540.0L700.7 538.4L703.2 539.4L705.7 539.4L708.2 539.5L710.7 539.4L713.2 539.3L715.7 538.6L718.2 540.2L720.7 539.5L723.2 539.7L725.7 539.9L728.2 539.5L730.7 539.9L733.2 538.7L735.7 539.5L738.2 539.4L740.7 540.0L743.2 540.9L745.7 539.7L748.2 539.1L750.7 540.3L753.2 539.9L755.7 538.3L758.2 539.0L760.7 540.1L763.2 540.4L765.7 540.6L768.2 539.1L770.7 539.2L773.2 540.4L775.7 539.6L778.2 540.3L780.7 540.2L783.2 539.6L785.7 540.0L788.2 539.0L790.7 540.1L793.2 540.2L795.7 540.0L798.2 540.7L800.7 539.9L803.2 540.6L805.7 541.0L808.2 540.4L810.7 541.4L813.2 541.3L815.7 540.9L818.2 540.3L820.7 541.0L823.2 541.6L825.7 541.9L828.2 540.5L830.7 540.9L833.2 540.0L835.7 541.3L838.2 539.9L840.7 541.0L843.2 541.0L845.7 541.1L848.2 541.8L850.7 540.1L853.2 541.1L855.7 541.5L858.2 540.5L860.7 541.2L863.2 540.7L865.7 540.3L868.2 539.4L870.7 540.2L873.2 540.2L875.7 539.7L878.2 541.2L880.7 541.0L883.2 540.0L885.7 540.0L888.2 541.1L890.7 540.3L893.2 540.6L895.7 540.3L898.2 540.7L900.7 540.0L903.2 539.5L905.7 539.9L908.2 538.9L910.7 539.1L913.2 538.8L915.7 537.2L918.2 536.5L920.7 534.4L923.2 537.4L925.7 538.6L928.2 540.0L930.7 539.0L933.2 539.3L935.7 539.2L938.2 539.1L940.7 540.0L943.2 540.8L945.7 540.9L948.2 540.3L950.7 541.2L953.2 540.8L955.7 540.3L958.2 540.6L960.7 539.7L963.2 541.3L965.7 542.1L968.2 542.2L970.7 542.0L973.2 541.4L973.2 548.6L970.7 550.4L968.2 549.6L965.7 549.6L963.2 549.3L960.7 549.5L958.2 549.0L955.7 548.7L953.2 548.9L950.7 549.6L948.2 548.7L945.7 550.0L943.2 549.9L940.7 548.2L938.2 548.4L935.7 548.8L933.2 547.5L930.7 546.9L928.2 546.7L925.7 547.3L923.2 545.6L920.7 543.4L918.2 543.4L915.7 544.9L913.2 546.0L910.7 546.7L908.2 547.9L905.7 547.4L903.2 549.1L900.7 548.2L898.2 549.4L895.7 549.0L893.2 550.2L890.7 549.5L888.2 548.5L885.7 548.0L883.2 547.9L880.7 548.7L878.2 548.6L875.7 548.9L873.2 548.4L870.7 547.8L868.2 548.3L865.7 548.4L863.2 548.2L860.7 548.2L858.2 548.3L855.7 548.7L853.2 548.5L850.7 548.4L848.2 548.7L845.7 548.3L843.2 549.2L840.7 548.3L838.2 548.5L835.7 549.4L833.2 548.2L830.7 549.0L828.2 550.0L825.7 549.7L823.2 548.9L820.7 548.6L818.2 548.5L815.7 548.7L813.2 549.4L810.7 549.4L808.2 548.4L805.7 550.0L803.2 548.6L800.7 548.1L798.2 548.2L795.7 548.8L793.2 548.2L790.7 546.8L788.2 548.3L785.7 548.0L783.2 548.0L780.7 548.5L778.2 547.5L775.7 547.7L773.2 548.3L770.7 548.9L768.2 548.0L765.7 547.8L763.2 547.4L760.7 547.0L758.2 548.0L755.7 547.5L753.2 547.7L750.7 547.9L748.2 547.6L745.7 548.9L743.2 547.8L740.7 548.0L738.2 547.4L735.7 548.0L733.2 548.7L730.7 547.3L728.2 546.7L725.7 548.3L723.2 548.3L720.7 549.2L718.2 548.4L715.7 547.3L713.2 546.3L710.7 547.5L708.2 547.3L705.7 547.6L703.2 546.9L700.7 546.9L698.2 547.8L695.7 547.4L693.2 546.0L690.7 545.3L688.2 545.4L685.7 546.5L683.2 545.4L680.7 544.5L678.2 545.7L675.7 543.8L673.2 543.4L670.7 543.2L668.2 543.8L665.7 544.0L663.2 543.7L660.7 541.9L658.2 541.7L655.7 540.3L653.2 538.9L650.7 538.7L648.2 540.5L645.7 540.8L643.2 540.4L640.7 540.6L638.2 541.4L635.7 541.4L633.2 542.2L630.7 542.0L628.2 543.0L625.7 543.5L623.2 542.4L620.7 544.0L618.2 543.5L615.7 544.8L613.2 544.9L610.7 543.8L608.2 544.6L605.7 543.9L603.2 544.4L600.7 545.0L598.2 544.3L595.7 544.2L593.2 544.9L590.7 544.7L588.2 544.0L585.7 543.6L583.2 543.0L580.7 542.9L578.2 543.0L575.7 543.8L573.2 543.1L570.7 544.0L568.2 543.5L565.7 542.9L563.2 542.5L560.7 541.8L558.2 542.4L555.7 542.5L553.2 542.5L550.7 541.7L548.2 540.8L545.7 540.0L543.2 539.2L540.7 539.2L538.2 538.8L535.7 538.2L533.2 538.7L530.7 538.1L528.2 536.7L525.7 537.4L523.2 536.2L520.7 536.5L518.2 536.5L515.7 536.6L513.2 536.0L510.7 535.2L508.2 534.0L505.7 533.8L503.2 534.8L500.7 533.3L498.2 531.4L495.7 530.8L493.2 531.8L490.7 530.2L488.2 530.1L485.7 529.7L483.2 530.0L480.7 530.3L478.2 531.0L475.7 530.8L473.2 531.7L470.7 533.2L468.2 534.2L465.7 535.7L463.2 536.7L460.7 537.1L458.2 538.1L455.7 537.6L453.2 538.6L450.7 539.9L448.2 540.0L445.7 539.2L443.2 539.8L440.7 539.8L438.2 539.4L435.7 540.3L433.2 539.3L430.7 540.1L428.2 539.3L425.7 539.3L423.2 541.3L420.7 540.8L418.2 540.4L415.7 539.5L413.2 540.9L410.7 540.0L408.2 539.5L405.7 539.4L403.2 539.9L400.7 540.6L398.2 539.9L395.7 540.6L393.2 539.7L390.7 539.6L388.2 541.4L385.7 541.6L383.2 541.0L380.7 541.4L378.2 540.1L375.7 539.3L373.2 540.3L370.7 540.1L368.2 540.2L365.7 541.3L363.2 540.4L360.7 541.2L358.2 540.5L355.7 541.1L353.2 540.2L350.7 541.1L348.2 541.2L345.7 540.5L343.2 541.4L340.7 540.6L338.2 540.9L335.7 539.9L333.2 540.2L330.7 539.1L328.2 539.9L325.7 538.7L323.2 539.7L320.7 538.9L318.2 540.9L315.7 539.8L313.2 540.6L310.7 540.9L308.2 541.3L305.7 540.2L303.2 539.6L300.7 539.7L298.2 538.7L295.7 536.9L293.2 534.5L290.7 528.1L288.2 513.3L285.7 493.8L283.2 473.7L280.7 462.8L278.2 469.1L275.7 484.4L273.2 497.7L270.7 510.4L268.2 521.7L265.7 529.6L263.2 535.8L260.7 540.8L258.2 541.1L255.7 543.6L253.2 543.6L250.7 545.4L248.2 544.7L245.7 545.4L243.2 544.7L240.7 544.0L238.2 545.7L235.7 544.2L233.2 543.9L230.7 545.1L228.2 544.7L225.7 544.7L223.2 545.5L220.7 546.4L218.2 545.5L215.7 541.2L213.2 545.7L210.7 546.3L208.2 546.4L205.7 545.6L203.2 546.2L200.7 546.5L198.2 547.6L195.7 546.5L193.2 546.4L190.7 545.4L188.2 545.2L185.7 546.3L183.2 546.9L180.7 546.7L178.2 545.9L175.7 545.2L173.2 545.4L170.7 545.3L168.2 545.5L165.7 544.1L163.2 544.6L160.7 543.6L158.2 543.3L155.7 543.8L153.2 543.0L150.7 544.4L148.2 542.7L145.7 544.1L143.2 541.9L140.7 542.1L138.2 540.7L135.7 539.3L133.2 539.6L130.7 539.6L128.2 539.1L125.7 539.5L123.2 537.9L120.7 537.5L118.2 537.0L115.7 537.7L113.2 536.8L110.7 536.9L108.2 536.1L105.7 534.5L103.2 533.6L100.7 534.3L98.2 532.2L95.7 531.9L93.2 532.3L90.7 532.8L88.2 532.3L85.7 531.6L83.2 532.7L80.7 533.2L78.2 532.7L75.7 531.0L73.2 531.6L70.7 532.5L68.2 531.9Z" fill="#02fa02" stroke="#02fa02" stroke-width="1.4" stroke-linejoin="round"/>
<path d="M68.2 435.0L69.7 435.0L71.2 435.1L72.7 435.2L74.2 435.3L75.7 435.4L77.2 435.5L78.7 435.6L80.2 435.7L81.7 435.8L83.2 435.9L84.7 436.0L86.2 436.2L87.7 436.5L89.2 436.8L90.7 437.1L92.2 437.4L93.7 437.7L95.2 438.0L96.7 438.3L98.2 438.7L99.7 439.2L101.2 439.7L102.7 440.2L104.2 440.6L105.7 441.1L107.2 441.6L108.7 442.1L110.2 442.6L111.7 443.3L113.2 444.0L114.7 444.8L116.2 445.5L117.7 446.2L119.2 446.9L120.7 447.6L122.2 448.4L123.7 448.9L125.2 449.4L126.7 449.8L128.2 450.3L129.7 450.8L131.2 451.3L132.7 451.8L134.2 452.2L135.7 452.7L137.2 453.0L138.7 453.4L140.2 453.7L141.7 454.1L143.2 454.5L144.7 454.8L146.2 455.2L147.7 455.5L149.2 455.8L150.7 456.0L152.2 456.3L153.7 456.5L155.2 456.7L156.7 457.0L158.2 457.2L159.7 457.5L161.2 457.6L162.7 457.8L164.2 458.0L165.7 458.2L167.2 458.4L168.7 458.5L170.2 458.7L171.7 458.9L173.2 459.0L174.7 458.9L176.2 458.9L177.7 458.8L179.2 458.7L180.7 458.7L182.2 458.6L183.7 458.6L185.2 458.5L186.7 458.4L188.2 458.4L189.7 458.3L191.2 458.3L192.7 458.2L194.2 458.1L195.7 458.1L197.2 458.0L198.7 457.9L200.2 457.7L201.7 457.5L203.2 457.3L204.7 457.1L206.2 457.0L207.7 456.8L209.2 456.6L210.7 456.4L212.2 456.2L213.7 456.1L215.2 455.9L216.7 455.7L218.2 455.5L219.7 455.3L221.2 455.2L222.7 454.9L224.2 454.5L225.7 454.0L227.2 453.5L228.7 453.0L230.2 452.5L231.7 452.1L233.2 451.6L234.7 451.1L236.2 450.0L237.7 448.8L239.2 447.6L240.7 446.4L242.2 445.2L243.7 444.0L245.2 442.8L246.7 441.6L248.2 440.2L249.7 438.6L251.2 437.0L252.7 435.4L254.2 433.8L255.7 432.1L257.2 430.5L258.7 428.9L260.2 427.3L261.7 426.0L263.2 424.7L264.7 423.4L266.2 422.0L267.7 420.7L269.2 419.4L270.7 418.1L272.2 416.8L273.7 416.3L275.2 416.0L276.7 415.7L278.2 415.4L279.7 415.1L281.2 415.7L282.7 416.6L284.2 417.5L285.7 418.4L287.2 419.3L288.7 420.2L290.2 421.2L291.7 423.0L293.2 424.8L294.7 426.6L296.2 428.4L297.7 430.2L299.2 432.0L300.7 433.3L302.2 434.0L303.7 434.6L305.2 435.3L306.7 435.9L308.2 436.6L309.7 437.3L311.2 437.9L312.7 438.5L314.2 438.8L315.7 439.1L317.2 439.4L318.7 439.7L320.2 440.0L321.7 440.3L323.2 440.6L324.7 440.9L326.2 441.0L327.7 441.1L329.2 441.2L330.7 441.2L332.2 441.3L333.7 441.3L335.2 441.4L336.7 441.5L338.2 441.6L339.7 441.9L341.2 442.1L342.7 442.3L344.2 442.6L345.7 442.8L347.2 443.1L348.7 443.3L350.2 443.5L351.7 443.7L353.2 443.9L354.7 444.1L356.2 444.2L357.7 444.4L359.2 444.6L360.7 444.8L362.2 445.0L363.7 445.1L365.2 445.2L366.7 445.3L368.2 445.5L369.7 445.6L371.2 445.7L372.7 445.8L374.2 445.9L375.7 446.0L377.2 446.1L378.7 446.1L380.2 446.2L381.7 446.3L383.2 446.3L384.7 446.4L386.2 446.4L387.7 446.5L389.2 446.8L390.7 447.0L392.2 447.3L393.7 447.5L395.2 447.7L396.7 448.0L398.2 448.2L399.7 448.5L401.2 448.5L402.7 448.5L404.2 448.5L405.7 448.5L407.2 448.5L408.7 448.5L410.2 448.5L411.7 448.5L413.2 448.4L414.7 448.3L416.2 448.2L417.7 448.1L419.2 448.0L420.7 447.8L422.2 447.7L423.7 447.6L425.2 447.5L426.7 447.5L428.2 447.5L429.7 447.5L431.2 447.5L432.7 447.5L434.2 447.5L435.7 447.5L437.2 447.5L438.7 447.2L440.2 446.7L441.7 446.3L443.2 445.9L444.7 445.5L446.2 445.1L447.7 444.6L449.2 444.2L450.7 443.8L452.2 443.5L453.7 443.1L455.2 442.8L456.7 442.4L458.2 442.0L459.7 441.7L461.2 441.3L462.7 441.0L464.2 440.9L465.7 440.7L467.2 440.6L468.7 440.5L470.2 440.4L471.7 440.3L473.2 440.1L474.7 440.0L476.2 439.9L477.7 439.8L479.2 439.7L480.7 439.5L482.2 439.4L483.7 439.3L485.2 439.2L486.7 439.1L488.2 439.1L489.7 439.2L491.2 439.3L492.7 439.4L494.2 439.5L495.7 439.7L497.2 439.8L498.7 439.9L500.2 440.1L501.7 440.5L503.2 440.9L504.7 441.3L506.2 441.7L507.7 442.2L509.2 442.6L510.7 443.0L512.2 443.4L513.7 444.0L515.2 444.6L516.7 445.2L518.2 445.8L519.7 446.4L521.2 447.0L522.7 447.6L524.2 448.2L525.7 448.7L527.2 449.2L528.7 449.7L530.2 450.2L531.7 450.6L533.2 451.1L534.7 451.6L536.2 452.1L537.7 452.5L539.2 452.8L540.7 453.0L542.2 453.3L543.7 453.5L545.2 453.7L546.7 454.0L548.2 454.2L549.7 454.5L551.2 454.7L552.7 455.0L554.2 455.3L555.7 455.6L557.2 455.9L558.7 456.2L560.2 456.5L561.7 456.8L563.2 457.1L564.7 457.4L566.2 457.7L567.7 457.9L569.2 458.1L570.7 458.3L572.2 458.5L573.7 458.7L575.2 458.9L576.7 459.1L578.2 459.3L579.7 459.6L581.2 459.8L582.7 460.0L584.2 460.2L585.7 460.4L587.2 460.6L588.7 460.8L590.2 461.0L591.7 461.0L593.2 461.1L594.7 461.1L596.2 461.1L597.7 461.2L599.2 461.2L600.7 461.2L602.2 461.2L603.7 461.3L605.2 461.3L606.7 461.3L608.2 461.4L609.7 461.4L611.2 461.4L612.7 461.5L614.2 461.5L615.7 461.5L617.2 461.6L618.7 461.6L620.2 461.7L621.7 461.8L623.2 461.8L624.7 461.9L626.2 461.9L627.7 462.0L629.2 462.1L630.7 462.1L632.2 462.2L633.7 462.2L635.2 462.3L636.7 462.4L638.2 462.4L639.7 462.5L641.2 462.6L642.7 462.8L644.2 462.9L645.7 463.1L647.2 463.2L648.7 463.4L650.2 463.5L651.7 463.7L653.2 463.8L654.7 464.0L656.2 464.1L657.7 464.3L659.2 464.4L660.7 464.6L662.2 464.7L663.7 464.9L665.2 465.0L666.7 465.2L668.2 465.4L669.7 465.7L671.2 465.9L672.7 466.1L674.2 466.3L675.7 466.5L677.2 466.7L678.7 466.9L680.2 467.1L681.7 467.3L683.2 467.5L684.7 467.8L686.2 468.0L687.7 468.2L689.2 468.4L690.7 468.6L692.2 468.7L693.7 468.9L695.2 469.0L696.7 469.2L698.2 469.3L699.7 469.5L701.2 469.6L702.7 469.8L704.2 469.9L705.7 470.1L707.2 470.2L708.7 470.4L710.2 470.5L711.7 470.7L713.2 470.8L714.7 471.0L716.2 471.1L717.7 471.2L719.2 471.3L720.7 471.3L722.2 471.4L723.7 471.5L725.2 471.6L726.7 471.7L728.2 471.8L729.7 471.9L731.2 472.0L732.7 472.1L734.2 472.2L735.7 472.2L737.2 472.3L738.7 472.4L740.2 472.5L741.7 472.6L743.2 472.6L744.7 472.7L746.2 472.7L747.7 472.8L749.2 472.9L750.7 472.9L752.2 473.0L753.7 473.0L755.2 473.1L756.7 473.2L758.2 473.2L759.7 473.3L761.2 473.3L762.7 473.4L764.2 473.5L765.7 473.5L767.2 473.5L768.7 473.5L770.2 473.5L771.7 473.5L773.2 473.5L774.7 473.5L776.2 473.5L777.7 473.5L779.2 473.5L780.7 473.5L782.2 473.5L783.7 473.5L785.2 473.5L786.7 473.5L788.2 473.5L789.7 473.5L791.2 473.5L792.7 473.5L794.2 473.5L795.7 473.5L797.2 473.5L798.7 473.5L800.2 473.5L801.7 473.5L803.2 473.5L804.7 473.5L806.2 473.5L807.7 473.5L809.2 473.5L810.7 473.5L812.2 473.5L813.7 473.5L815.2 473.5L816.7 473.5L818.2 473.5L819.7 473.5L821.2 473.5L822.7 473.5L824.2 473.5L825.7 473.5L827.2 473.5L828.7 473.5L830.2 473.5L831.7 473.5L833.2 473.6L834.7 473.6L836.2 473.6L837.7 473.6L839.2 473.6L840.7 473.6L842.2 473.6L843.7 473.6L845.2 473.6L846.7 473.6L848.2 473.7L849.7 473.7L851.2 473.7L852.7 473.7L854.2 473.7L855.7 473.7L857.2 473.7L858.7 473.7L860.2 473.7L861.7 473.7L863.2 473.8L864.7 473.8L866.2 473.8L867.7 473.8L869.2 473.8L870.7 473.8L872.2 473.8L873.7 473.8L875.2 473.8L876.7 473.8L878.2 473.9L879.7 473.9L881.2 473.9L882.7 473.9L884.2 473.9L885.7 473.9L887.2 473.9L888.7 473.9L890.2 473.9L891.7 473.9L893.2 474.0L894.7 474.0L896.2 474.0L897.7 474.0L899.2 474.0L900.7 474.0L902.2 474.0L903.7 474.0L905.2 474.1L906.7 474.1L908.2 474.1L909.7 474.1L911.2 474.1L912.7 474.2L914.2 474.2L915.7 474.2L917.2 474.2L918.7 474.2L920.2 474.3L921.7 474.3L923.2 474.3L924.7 474.3L926.2 474.3L927.7 474.4L929.2 474.4L930.7 474.4L932.2 474.4L933.7 474.4L935.2 474.5L936.7 474.5L938.2 474.5L939.7 474.5L941.2 474.5L942.7 474.6L944.2 474.6L945.7 474.6L947.2 474.6L948.7 474.6L950.2 474.7L951.7 474.7L953.2 474.7L954.7 474.7L956.2 474.7L957.7 474.8L959.2 474.8L960.7 474.8L962.2 474.8L963.7 474.8L965.2 474.9L966.7 474.9L968.2 474.9L969.7 474.9L971.2 474.9L972.7 475.0L974.2 475.0" fill="none" stroke="#0000ff" stroke-width="9.0" stroke-linejoin="round" stroke-linecap="butt"/>
<path d="M68.2 426.9L70.7 428.4L73.2 429.0L75.7 427.3L78.2 427.7L80.7 428.4L83.2 430.6L85.7 426.8L88.2 427.2L90.7 428.2L93.2 430.5L95.7 429.3L98.2 433.2L100.7 433.8L103.2 434.9L105.7 431.9L108.2 436.4L110.7 437.2L113.2 438.2L115.7 439.0L118.2 437.7L120.7 442.1L123.2 441.3L125.7 443.3L128.2 446.2L130.7 445.6L133.2 445.0L135.7 445.9L138.2 446.5L140.7 446.6L143.2 446.0L145.7 444.0L148.2 448.3L150.7 445.8L153.2 446.4L155.7 451.3L158.2 448.7L160.7 451.1L163.2 450.8L165.7 449.1L168.2 451.8L170.7 451.7L173.2 454.8L175.7 455.1L178.2 450.9L180.7 453.0L183.2 454.9L185.7 451.1L188.2 450.9L190.7 452.8L193.2 449.1L195.7 446.1L198.2 449.2L200.7 447.5L203.2 452.0L205.7 451.9L208.2 450.8L210.7 451.6L213.2 446.4L215.7 451.4L218.2 449.8L220.7 450.3L223.2 448.9L225.7 443.6L228.2 444.0L230.7 445.4L233.2 442.5L235.7 441.3L238.2 439.9L240.7 435.6L243.2 435.5L245.7 436.9L248.2 435.1L250.7 430.7L253.2 429.0L255.7 424.7L258.2 420.8L260.7 419.7L263.2 415.3L265.7 414.8L268.2 410.4L270.7 411.1L273.2 404.8L275.7 407.9L278.2 408.8L280.7 408.5L283.2 411.2L285.7 408.2L288.2 412.7L290.7 414.6L293.2 419.3L295.7 421.2L298.2 426.0L300.7 428.1L303.2 427.7L305.7 428.7L308.2 432.4L310.7 431.4L313.2 428.9L315.7 430.5L318.2 432.4L320.7 433.0L323.2 433.2L325.7 433.2L328.2 434.3L330.7 431.3L333.2 430.8L335.7 431.3L338.2 434.3L340.7 435.2L343.2 433.0L345.7 435.0L348.2 436.7L350.7 431.9L353.2 437.0L355.7 438.0L358.2 435.4L360.7 437.7L363.2 437.5L365.7 437.8L368.2 439.3L370.7 440.3L373.2 437.8L375.7 434.2L378.2 437.3L380.7 435.0L383.2 434.9L385.7 436.4L388.2 439.3L390.7 435.5L393.2 437.0L395.7 437.6L398.2 441.8L400.7 438.0L403.2 439.8L405.7 440.1L408.2 442.7L410.7 439.5L413.2 439.9L415.7 442.9L418.2 443.6L420.7 441.1L423.2 442.7L425.7 440.9L428.2 438.3L430.7 440.1L433.2 438.7L435.7 442.3L438.2 438.4L440.7 439.7L443.2 439.1L445.7 439.8L448.2 436.7L450.7 436.4L453.2 432.9L455.7 436.9L458.2 434.9L460.7 435.3L463.2 432.2L465.7 433.2L468.2 435.4L470.7 432.9L473.2 434.7L475.7 435.7L478.2 434.9L480.7 432.8L483.2 429.9L485.7 431.4L488.2 430.8L490.7 430.1L493.2 431.1L495.7 432.8L498.2 434.1L500.7 432.3L503.2 433.4L505.7 432.5L508.2 434.9L510.7 433.6L513.2 438.2L515.7 439.6L518.2 440.4L520.7 441.8L523.2 438.4L525.7 438.8L528.2 439.1L530.7 443.9L533.2 442.7L535.7 446.6L538.2 447.6L540.7 446.8L543.2 445.8L545.7 446.1L548.2 448.3L550.7 448.2L553.2 448.0L555.7 450.3L558.2 449.1L560.7 450.5L563.2 451.2L565.7 448.5L568.2 451.7L570.7 448.6L573.2 451.3L575.7 452.4L578.2 453.8L580.7 451.7L583.2 455.2L585.7 456.3L588.2 455.5L590.7 454.4L593.2 454.4L595.7 452.2L598.2 454.9L600.7 454.8L603.2 454.0L605.7 457.1L608.2 457.1L610.7 454.8L613.2 454.3L615.7 456.1L618.2 458.0L620.7 457.3L623.2 456.9L625.7 454.7L628.2 457.7L630.7 455.5L633.2 457.4L635.7 456.5L638.2 457.1L640.7 455.6L643.2 456.7L645.7 458.5L648.2 457.7L650.7 457.6L653.2 458.2L655.7 455.4L658.2 459.2L660.7 459.4L663.2 456.3L665.7 458.5L668.2 457.9L670.7 461.9L673.2 460.5L675.7 462.4L678.2 459.6L680.7 460.2L683.2 461.7L685.7 459.8L688.2 460.7L690.7 463.0L693.2 462.1L695.7 461.0L698.2 465.5L700.7 464.2L703.2 466.5L705.7 465.9L708.2 463.8L710.7 464.8L713.2 461.6L715.7 465.8L718.2 464.5L720.7 468.5L723.2 466.9L725.7 463.6L728.2 463.9L730.7 464.4L733.2 466.9L735.7 466.9L738.2 466.3L740.7 467.2L743.2 466.2L745.7 466.7L748.2 467.7L750.7 467.3L753.2 467.0L755.7 466.5L758.2 465.7L760.7 465.9L763.2 464.9L765.7 464.6L768.2 468.6L770.7 466.3L773.2 465.6L775.7 467.6L778.2 469.7L780.7 466.5L783.2 467.7L785.7 469.8L788.2 469.8L790.7 470.4L793.2 469.7L795.7 469.1L798.2 469.4L800.7 469.4L803.2 468.6L805.7 469.0L808.2 468.0L810.7 467.1L813.2 466.0L815.7 466.1L818.2 468.6L820.7 467.3L823.2 466.7L825.7 468.3L828.2 466.7L830.7 467.8L833.2 467.5L835.7 466.0L838.2 469.1L840.7 469.7L843.2 468.2L845.7 469.3L848.2 465.3L850.7 465.9L853.2 468.5L855.7 467.5L858.2 465.1L860.7 468.7L863.2 466.0L865.7 467.9L868.2 469.2L870.7 466.4L873.2 467.6L875.7 468.9L878.2 469.7L880.7 466.4L883.2 469.4L885.7 467.5L888.2 467.1L890.7 468.1L893.2 464.8L895.7 465.2L898.2 466.6L900.7 469.7L903.2 466.5L905.7 467.6L908.2 467.8L910.7 467.9L913.2 469.2L915.7 470.4L918.2 469.5L920.7 469.3L923.2 468.7L925.7 467.7L928.2 467.7L930.7 469.6L933.2 467.6L935.7 469.9L938.2 469.0L940.7 467.5L943.2 468.6L945.7 471.0L948.2 467.2L950.7 467.5L953.2 468.6L955.7 469.5L958.2 469.0L960.7 472.1L963.2 470.8L965.7 470.4L968.2 467.6L970.7 470.7L973.2 471.3L973.2 479.2L970.7 479.6L968.2 482.4L965.7 480.7L963.2 479.9L960.7 479.8L958.2 479.2L955.7 480.6L953.2 478.3L950.7 478.4L948.2 479.6L945.7 482.3L943.2 482.2L940.7 479.5L938.2 479.8L935.7 478.8L933.2 478.5L930.7 478.3L928.2 480.4L925.7 479.0L923.2 478.3L920.7 481.1L918.2 478.8L915.7 480.0L913.2 479.0L910.7 479.0L908.2 483.2L905.7 479.7L903.2 480.5L900.7 479.9L898.2 477.4L895.7 476.9L893.2 477.4L890.7 480.1L888.2 477.4L885.7 477.3L883.2 477.5L880.7 478.3L878.2 478.0L875.7 480.8L873.2 479.7L870.7 481.5L868.2 478.2L865.7 479.7L863.2 478.4L860.7 479.3L858.2 477.5L855.7 476.8L853.2 478.1L850.7 477.5L848.2 478.1L845.7 479.9L843.2 479.9L840.7 478.8L838.2 480.4L835.7 480.9L833.2 480.0L830.7 480.6L828.2 478.8L825.7 479.0L823.2 479.8L820.7 477.3L818.2 478.0L815.7 478.9L813.2 479.3L810.7 479.7L808.2 479.3L805.7 478.3L803.2 480.7L800.7 478.9L798.2 479.7L795.7 481.5L793.2 480.7L790.7 480.3L788.2 478.9L785.7 480.4L783.2 480.9L780.7 481.1L778.2 478.5L775.7 481.4L773.2 480.2L770.7 480.5L768.2 476.6L765.7 479.9L763.2 478.2L760.7 477.7L758.2 477.3L755.7 476.6L753.2 476.9L750.7 479.9L748.2 478.4L745.7 478.3L743.2 476.6L740.7 478.6L738.2 477.7L735.7 478.4L733.2 479.8L730.7 478.5L728.2 475.5L725.7 477.6L723.2 480.0L720.7 479.8L718.2 478.0L715.7 476.1L713.2 474.8L710.7 475.1L708.2 474.7L705.7 477.9L703.2 477.3L700.7 474.8L698.2 473.9L695.7 475.0L693.2 475.4L690.7 472.2L688.2 471.7L685.7 474.6L683.2 472.8L680.7 472.1L678.2 473.9L675.7 471.7L673.2 472.0L670.7 470.8L668.2 470.0L665.7 472.0L663.2 469.3L660.7 469.2L658.2 470.7L655.7 467.9L653.2 468.9L650.7 470.2L648.2 468.6L645.7 467.5L643.2 470.0L640.7 467.6L638.2 468.3L635.7 470.3L633.2 467.4L630.7 469.8L628.2 469.3L625.7 466.7L623.2 468.1L620.7 471.0L618.2 470.7L615.7 468.3L613.2 467.3L610.7 471.3L608.2 470.3L605.7 466.3L603.2 465.4L600.7 464.4L598.2 466.7L595.7 467.4L593.2 468.4L590.7 468.0L588.2 465.8L585.7 466.2L583.2 468.6L580.7 467.2L578.2 463.8L575.7 464.1L573.2 465.9L570.7 462.8L568.2 464.5L565.7 466.0L563.2 462.5L560.7 464.0L558.2 461.4L555.7 460.3L553.2 461.5L550.7 460.5L548.2 461.4L545.7 459.8L543.2 460.1L540.7 461.7L538.2 458.5L535.7 458.3L533.2 456.1L530.7 458.3L528.2 457.3L525.7 453.3L523.2 452.6L520.7 451.9L518.2 452.1L515.7 455.1L513.2 450.1L510.7 447.7L508.2 451.1L505.7 450.3L503.2 448.8L500.7 450.5L498.2 445.3L495.7 446.0L493.2 444.6L490.7 445.1L488.2 446.0L485.7 445.9L483.2 448.8L480.7 447.4L478.2 447.0L475.7 447.2L473.2 448.9L470.7 450.7L468.2 451.3L465.7 449.7L463.2 449.0L460.7 448.3L458.2 448.7L455.7 449.6L453.2 448.4L450.7 448.3L448.2 454.4L445.7 454.2L443.2 453.7L440.7 453.3L438.2 453.3L435.7 457.4L433.2 456.2L430.7 456.4L428.2 453.1L425.7 456.2L423.2 458.1L420.7 457.2L418.2 459.5L415.7 459.4L413.2 455.2L410.7 457.3L408.2 455.1L405.7 453.3L403.2 453.4L400.7 457.6L398.2 456.7L395.7 455.7L393.2 454.5L390.7 453.9L388.2 451.3L385.7 454.4L383.2 452.0L380.7 454.2L378.2 455.2L375.7 453.7L373.2 455.6L370.7 451.6L368.2 451.9L365.7 451.5L363.2 454.1L360.7 455.7L358.2 450.3L355.7 452.4L353.2 451.8L350.7 449.5L348.2 448.7L345.7 451.8L343.2 449.7L340.7 447.9L338.2 449.5L335.7 447.4L333.2 448.0L330.7 450.3L328.2 447.9L325.7 447.7L323.2 447.3L320.7 449.4L318.2 445.5L315.7 443.9L313.2 445.5L310.7 446.7L308.2 444.6L305.7 445.9L303.2 446.4L300.7 442.6L298.2 438.5L295.7 439.0L293.2 433.2L290.7 428.3L288.2 425.6L285.7 425.1L283.2 426.0L280.7 422.5L278.2 424.9L275.7 422.1L273.2 425.8L270.7 425.7L268.2 425.7L265.7 429.6L263.2 429.3L260.7 431.8L258.2 437.0L255.7 441.7L253.2 441.5L250.7 443.7L248.2 451.9L245.7 451.2L243.2 451.4L240.7 452.2L238.2 455.8L235.7 458.5L233.2 460.2L230.7 458.1L228.2 461.3L225.7 461.5L223.2 463.8L220.7 462.4L218.2 464.7L215.7 462.9L213.2 463.1L210.7 464.4L208.2 465.9L205.7 466.6L203.2 467.8L200.7 464.8L198.2 462.8L195.7 463.4L193.2 463.5L190.7 469.4L188.2 470.7L185.7 466.2L183.2 469.4L180.7 470.9L178.2 468.7L175.7 470.3L173.2 466.6L170.7 470.6L168.2 466.1L165.7 464.6L163.2 465.2L160.7 465.6L158.2 467.8L155.7 467.9L153.2 463.0L150.7 461.7L148.2 461.4L145.7 459.6L143.2 460.5L140.7 459.2L138.2 461.4L135.7 458.9L133.2 459.5L130.7 458.0L128.2 458.9L125.7 460.4L123.2 459.1L120.7 455.9L118.2 457.9L115.7 453.9L113.2 454.5L110.7 451.7L108.2 452.3L105.7 447.0L103.2 449.0L100.7 446.2L98.2 445.6L95.7 445.7L93.2 443.2L90.7 442.7L88.2 446.4L85.7 445.4L83.2 446.0L80.7 444.8L78.2 443.9L75.7 443.7L73.2 440.8L70.7 441.0L68.2 441.7Z" fill="#0000ff" stroke="#0000ff" stroke-width="1.4" stroke-linejoin="round"/>
<path d="M68.2 336.0L69.7 335.9L71.2 335.9L72.7 335.9L74.2 335.8L75.7 335.8L77.2 335.7L78.7 335.7L80.2 335.6L81.7 335.6L83.2 335.6L84.7 335.5L86.2 335.5L87.7 335.4L89.2 335.3L90.7 335.3L92.2 335.2L93.7 335.2L95.2 335.1L96.7 335.0L98.2 335.2L99.7 335.6L101.2 336.0L102.7 336.5L104.2 336.9L105.7 337.3L107.2 337.7L108.7 338.1L110.2 338.6L111.7 339.7L113.2 340.7L114.7 341.7L116.2 342.7L117.7 343.7L119.2 344.8L120.7 345.8L122.2 346.8L123.7 348.0L125.2 349.2L126.7 350.4L128.2 351.6L129.7 352.8L131.2 354.0L132.7 355.2L134.2 356.4L135.7 357.4L137.2 358.4L138.7 359.4L140.2 360.3L141.7 361.3L143.2 362.2L144.7 363.2L146.2 364.2L147.7 365.1L149.2 365.5L150.7 365.9L152.2 366.3L153.7 366.7L155.2 367.2L156.7 367.6L158.2 368.0L159.7 368.4L161.2 368.6L162.7 368.7L164.2 368.8L165.7 369.0L167.2 369.1L168.7 369.2L170.2 369.3L171.7 369.4L173.2 369.5L174.7 369.4L176.2 369.4L177.7 369.3L179.2 369.2L180.7 369.2L182.2 369.1L183.7 369.1L185.2 368.9L186.7 368.5L188.2 368.0L189.7 367.5L191.2 367.0L192.7 366.5L194.2 366.1L195.7 365.6L197.2 365.1L198.7 364.4L200.2 363.6L201.7 362.8L203.2 362.0L204.7 361.3L206.2 360.5L207.7 359.7L209.2 358.9L210.7 357.9L212.2 356.7L213.7 355.5L215.2 354.3L216.7 353.1L218.2 351.9L219.7 350.7L221.2 349.5L222.7 348.3L224.2 346.7L225.7 345.0L227.2 343.4L228.7 341.8L230.2 340.2L231.7 338.6L233.2 336.9L234.7 335.3L236.2 333.6L237.7 331.8L239.2 330.0L240.7 328.2L242.2 326.4L243.7 324.6L245.2 322.8L246.7 321.0L248.2 319.4L249.7 318.2L251.2 317.0L252.7 315.8L254.2 314.6L255.7 313.4L257.2 312.2L258.7 311.0L260.2 309.9L261.7 309.2L263.2 308.5L264.7 307.8L266.2 307.1L267.7 306.6L269.2 307.5L270.7 308.4L272.2 309.3L273.7 310.2L275.2 311.1L276.7 312.0L278.2 313.2L279.7 314.7L281.2 316.2L282.7 317.7L284.2 319.2L285.7 320.7L287.2 322.2L288.7 323.7L290.2 325.3L291.7 327.5L293.2 329.8L294.7 332.0L296.2 334.3L297.7 336.5L299.2 338.8L300.7 340.8L302.2 342.6L303.7 344.4L305.2 346.2L306.7 348.0L308.2 349.8L309.7 351.6L311.2 353.4L312.7 355.1L314.2 356.0L315.7 356.9L317.2 357.8L318.7 358.7L320.2 359.6L321.7 360.5L323.2 361.4L324.7 362.3L326.2 363.1L327.7 363.8L329.2 364.5L330.7 365.2L332.2 366.0L333.7 366.7L335.2 367.4L336.7 368.1L338.2 368.7L339.7 369.2L341.2 369.7L342.7 370.2L344.2 370.6L345.7 371.1L347.2 371.6L348.7 372.1L350.2 372.5L351.7 372.7L353.2 372.9L354.7 373.1L356.2 373.2L357.7 373.4L359.2 373.6L360.7 373.8L362.2 374.0L363.7 374.1L365.2 374.2L366.7 374.3L368.2 374.5L369.7 374.6L371.2 374.7L372.7 374.8L374.2 374.9L375.7 374.9L377.2 374.8L378.7 374.7L380.2 374.6L381.7 374.5L383.2 374.3L384.7 374.2L386.2 374.1L387.7 374.1L389.2 374.6L390.7 375.2L392.2 375.7L393.7 376.2L395.2 376.8L396.7 377.3L398.2 377.9L399.7 378.4L401.2 378.6L402.7 378.8L404.2 379.0L405.7 379.2L407.2 379.4L408.7 379.5L410.2 379.7L411.7 379.9L413.2 380.0L414.7 380.0L416.2 380.0L417.7 380.0L419.2 380.0L420.7 380.0L422.2 380.0L423.7 380.0L425.2 380.0L426.7 380.0L428.2 380.0L429.7 380.0L431.2 380.0L432.7 380.0L434.2 380.0L435.7 380.0L437.2 380.0L438.7 380.0L440.2 380.0L441.7 380.0L443.2 380.0L444.7 380.0L446.2 380.0L447.7 380.0L449.2 380.0L450.7 379.9L452.2 379.6L453.7 379.3L455.2 379.0L456.7 378.7L458.2 378.4L459.7 378.1L461.2 377.8L462.7 377.5L464.2 377.2L465.7 376.9L467.2 376.6L468.7 376.3L470.2 376.0L471.7 375.7L473.2 375.4L474.7 375.1L476.2 374.8L477.7 374.5L479.2 374.2L480.7 373.9L482.2 373.6L483.7 373.3L485.2 373.0L486.7 372.7L488.2 372.3L489.7 371.7L491.2 371.2L492.7 370.7L494.2 370.2L495.7 369.6L497.2 369.1L498.7 369.8L500.2 370.9L501.7 371.9L503.2 373.0L504.7 374.0L506.2 375.1L507.7 376.0L509.2 376.4L510.7 376.7L512.2 377.1L513.7 377.4L515.2 377.8L516.7 378.1L518.2 378.4L519.7 378.8L521.2 379.1L522.7 379.5L524.2 379.8L525.7 380.3L527.2 380.9L528.7 381.5L530.2 382.1L531.7 382.7L533.2 383.3L534.7 383.9L536.2 384.5L537.7 385.0L539.2 385.2L540.7 385.4L542.2 385.6L543.7 385.7L545.2 385.9L546.7 386.1L548.2 386.3L549.7 386.5L551.2 386.8L552.7 387.1L554.2 387.5L555.7 387.8L557.2 388.2L558.7 388.5L560.2 388.9L561.7 389.2L563.2 389.6L564.7 389.9L566.2 390.0L567.7 390.1L569.2 390.2L570.7 390.2L572.2 390.3L573.7 390.3L575.2 390.4L576.7 390.5L578.2 390.5L579.7 390.6L581.2 390.6L582.7 390.7L584.2 390.8L585.7 390.8L587.2 390.9L588.7 390.9L590.2 391.0L591.7 391.0L593.2 391.1L594.7 391.1L596.2 391.1L597.7 391.2L599.2 391.2L600.7 391.2L602.2 391.2L603.7 391.3L605.2 391.3L606.7 391.3L608.2 391.4L609.7 391.4L611.2 391.4L612.7 391.5L614.2 391.5L615.7 391.6L617.2 391.7L618.7 391.8L620.2 391.9L621.7 392.0L623.2 392.2L624.7 392.3L626.2 392.4L627.7 392.5L629.2 392.6L630.7 392.8L632.2 392.9L633.7 393.0L635.2 393.1L636.7 393.2L638.2 393.4L639.7 393.5L641.2 393.4L642.7 393.3L644.2 393.2L645.7 393.0L647.2 392.9L648.7 392.8L650.2 392.7L651.7 392.6L653.2 392.4L654.7 392.3L656.2 392.2L657.7 392.1L659.2 392.0L660.7 391.8L662.2 391.7L663.7 391.6L665.2 391.5L666.7 391.2L668.2 390.9L669.7 390.6L671.2 390.3L672.7 390.0L674.2 389.7L675.7 389.4L677.2 389.1L678.7 389.6L680.2 390.3L681.7 391.0L683.2 391.7L684.7 392.5L686.2 393.2L687.7 393.9L689.2 394.6L690.7 395.0L692.2 395.1L693.7 395.1L695.2 395.2L696.7 395.3L698.2 395.3L699.7 395.4L701.2 395.4L702.7 395.5L704.2 395.6L705.7 395.6L707.2 395.7L708.7 395.7L710.2 395.8L711.7 395.9L713.2 395.9L714.7 396.0L716.2 396.1L717.7 396.2L719.2 396.3L720.7 396.3L722.2 396.4L723.7 396.5L725.2 396.6L726.7 396.7L728.2 396.8L729.7 396.9L731.2 397.0L732.7 397.1L734.2 397.2L735.7 397.2L737.2 397.3L738.7 397.4L740.2 397.5L741.7 397.6L743.2 397.6L744.7 397.7L746.2 397.7L747.7 397.8L749.2 397.9L750.7 397.9L752.2 398.0L753.7 398.0L755.2 398.1L756.7 398.2L758.2 398.2L759.7 398.3L761.2 398.3L762.7 398.4L764.2 398.5L765.7 398.5L767.2 398.5L768.7 398.5L770.2 398.5L771.7 398.5L773.2 398.5L774.7 398.5L776.2 398.5L777.7 398.5L779.2 398.5L780.7 398.5L782.2 398.5L783.7 398.5L785.2 398.5L786.7 398.5L788.2 398.5L789.7 398.5L791.2 398.5L792.7 398.4L794.2 398.4L795.7 398.3L797.2 398.3L798.7 398.3L800.2 398.2L801.7 398.2L803.2 398.1L804.7 398.1L806.2 398.0L807.7 398.0L809.2 398.0L810.7 397.9L812.2 397.9L813.7 397.8L815.2 397.8L816.7 397.7L818.2 397.7L819.7 397.7L821.2 397.6L822.7 397.6L824.2 397.5L825.7 397.5L827.2 397.5L828.7 397.5L830.2 397.6L831.7 397.6L833.2 397.6L834.7 397.6L836.2 397.6L837.7 397.7L839.2 397.7L840.7 397.7L842.2 397.7L843.7 397.7L845.2 397.8L846.7 397.8L848.2 397.8L849.7 397.8L851.2 397.8L852.7 397.9L854.2 397.9L855.7 397.9L857.2 397.9L858.7 397.9L860.2 398.0L861.7 398.0L863.2 398.0L864.7 398.0L866.2 398.0L867.7 398.1L869.2 398.1L870.7 398.1L872.2 398.1L873.7 398.1L875.2 398.2L876.7 398.2L878.2 398.2L879.7 398.2L881.2 398.2L882.7 398.3L884.2 398.3L885.7 398.3L887.2 398.3L888.7 398.3L890.2 398.4L891.7 398.4L893.2 398.4L894.7 398.4L896.2 398.4L897.7 398.5L899.2 398.5L900.7 398.5L902.2 398.5L903.7 398.5L905.2 398.4L906.7 398.4L908.2 398.4L909.7 398.4L911.2 398.4L912.7 398.3L914.2 398.3L915.7 398.3L917.2 398.3L918.7 398.3L920.2 398.2L921.7 398.2L923.2 398.2L924.7 398.2L926.2 398.2L927.7 398.1L929.2 398.1L930.7 398.1L932.2 398.1L933.7 398.1L935.2 398.0L936.7 398.0L938.2 398.0L939.7 398.0L941.2 398.0L942.7 397.9L944.2 397.9L945.7 397.9L947.2 397.9L948.7 397.9L950.2 397.8L951.7 397.8L953.2 397.8L954.7 397.8L956.2 397.8L957.7 397.7L959.2 397.7L960.7 397.7L962.2 397.7L963.7 397.7L965.2 397.6L966.7 397.6L968.2 397.6L969.7 397.6L971.2 397.6L972.7 397.5L974.2 397.5" fill="none" stroke="#000000" stroke-width="9.0" stroke-linejoin="round" stroke-linecap="butt"/>
<path d="M68.2 330.5L70.7 327.5L73.2 329.7L75.7 326.5L78.2 327.1L80.7 326.1L83.2 327.0L85.7 329.7L88.2 331.0L90.7 328.1L93.2 331.9L95.7 327.6L98.2 331.6L100.7 329.7L103.2 330.0L105.7 329.0L108.2 332.2L110.7 332.6L113.2 333.5L115.7 334.4L118.2 337.8L120.7 339.4L123.2 343.1L125.7 344.5L128.2 345.6L130.7 348.6L133.2 348.0L135.7 349.3L138.2 354.5L140.7 354.8L143.2 357.3L145.7 357.4L148.2 357.4L150.7 361.6L153.2 361.7L155.7 361.8L158.2 361.8L160.7 363.0L163.2 363.7L165.7 362.7L168.2 364.7L170.7 363.4L173.2 364.1L175.7 363.1L178.2 362.4L180.7 359.3L183.2 360.6L185.7 362.8L188.2 358.7L190.7 358.5L193.2 357.1L195.7 356.8L198.2 359.5L200.7 358.6L203.2 358.8L205.7 355.1L208.2 352.7L210.7 353.5L213.2 349.7L215.7 349.0L218.2 345.2L220.7 344.4L223.2 341.6L225.7 336.8L228.2 333.2L230.7 332.2L233.2 331.2L235.7 329.2L238.2 326.7L240.7 319.8L243.2 317.3L245.7 314.4L248.2 313.6L250.7 310.8L253.2 309.8L255.7 307.8L258.2 304.1L260.7 301.9L263.2 302.2L265.7 299.0L268.2 300.8L270.7 298.9L273.2 302.5L275.7 305.4L278.2 306.6L280.7 308.2L283.2 311.4L285.7 312.4L288.2 316.1L290.7 320.0L293.2 323.0L295.7 328.7L298.2 332.1L300.7 332.4L303.2 337.6L305.7 337.8L308.2 340.5L310.7 344.9L313.2 350.6L315.7 351.6L318.2 350.9L320.7 355.4L323.2 353.2L325.7 358.5L328.2 355.6L330.7 359.3L333.2 359.6L335.7 360.6L338.2 363.1L340.7 362.3L343.2 363.9L345.7 363.5L348.2 366.7L350.7 363.6L353.2 367.8L355.7 364.4L358.2 365.5L360.7 369.0L363.2 366.5L365.7 369.6L368.2 368.8L370.7 370.2L373.2 367.5L375.7 371.8L378.2 371.0L380.7 370.0L383.2 367.0L385.7 365.8L388.2 367.6L390.7 369.3L393.2 366.7L395.7 367.4L398.2 372.3L400.7 373.9L403.2 372.9L405.7 375.4L408.2 376.2L410.7 374.2L413.2 372.4L415.7 375.5L418.2 374.0L420.7 372.9L423.2 373.8L425.7 374.3L428.2 373.1L430.7 374.7L433.2 371.5L435.7 374.0L438.2 373.8L440.7 373.8L443.2 370.7L445.7 372.5L448.2 375.4L450.7 372.4L453.2 373.7L455.7 374.1L458.2 372.8L460.7 372.9L463.2 373.6L465.7 371.4L468.2 369.9L470.7 367.7L473.2 368.2L475.7 365.6L478.2 368.1L480.7 370.6L483.2 369.2L485.7 367.2L488.2 365.0L490.7 366.6L493.2 365.2L495.7 362.5L498.2 363.4L500.7 364.4L503.2 366.9L505.7 369.2L508.2 369.0L510.7 370.0L513.2 369.6L515.7 368.8L518.2 372.6L520.7 374.6L523.2 372.4L525.7 376.0L528.2 376.3L530.7 373.9L533.2 373.7L535.7 379.1L538.2 380.3L540.7 377.8L543.2 380.4L545.7 379.3L548.2 379.8L550.7 382.6L553.2 380.2L555.7 378.8L558.2 380.5L560.7 381.3L563.2 383.0L565.7 384.2L568.2 383.8L570.7 386.6L573.2 383.2L575.7 383.7L578.2 384.7L580.7 384.1L583.2 385.2L585.7 386.8L588.2 385.1L590.7 385.7L593.2 383.2L595.7 387.5L598.2 386.1L600.7 388.1L603.2 383.9L605.7 384.8L608.2 384.2L610.7 386.1L613.2 383.7L615.7 386.8L618.2 386.2L620.7 386.5L623.2 386.0L625.7 385.9L628.2 387.2L630.7 385.3L633.2 384.8L635.7 386.9L638.2 385.6L640.7 387.7L643.2 386.9L645.7 388.6L648.2 383.9L650.7 387.2L653.2 385.2L655.7 387.0L658.2 387.6L660.7 386.4L663.2 384.2L665.7 387.8L668.2 385.1L670.7 382.5L673.2 383.7L675.7 383.9L678.2 383.5L680.7 384.7L683.2 387.0L685.7 388.4L688.2 389.2L690.7 391.9L693.2 388.9L695.7 389.3L698.2 390.0L700.7 390.9L703.2 391.1L705.7 391.6L708.2 388.5L710.7 389.4L713.2 390.8L715.7 389.7L718.2 391.0L720.7 391.8L723.2 392.2L725.7 388.3L728.2 391.3L730.7 392.3L733.2 389.7L735.7 392.3L738.2 391.4L740.7 394.0L743.2 391.1L745.7 393.8L748.2 394.0L750.7 394.7L753.2 394.6L755.7 393.7L758.2 394.0L760.7 392.6L763.2 392.4L765.7 392.0L768.2 392.1L770.7 391.9L773.2 394.6L775.7 391.3L778.2 393.8L780.7 393.1L783.2 392.0L785.7 390.7L788.2 395.2L790.7 391.1L793.2 393.9L795.7 391.7L798.2 392.3L800.7 393.5L803.2 392.9L805.7 394.0L808.2 392.4L810.7 392.0L813.2 391.7L815.7 391.7L818.2 391.5L820.7 392.7L823.2 392.3L825.7 393.4L828.2 393.3L830.7 389.4L833.2 389.4L835.7 393.3L838.2 393.1L840.7 389.4L843.2 393.5L845.7 393.2L848.2 389.2L850.7 389.5L853.2 392.0L855.7 390.4L858.2 391.1L860.7 391.2L863.2 392.6L865.7 391.9L868.2 389.5L870.7 393.9L873.2 393.7L875.7 389.5L878.2 390.0L880.7 391.2L883.2 391.8L885.7 392.5L888.2 392.5L890.7 389.4L893.2 389.1L895.7 393.5L898.2 391.2L900.7 391.7L903.2 393.8L905.7 392.9L908.2 390.2L910.7 394.0L913.2 391.7L915.7 394.1L918.2 390.8L920.7 392.1L923.2 394.3L925.7 394.7L928.2 394.6L930.7 392.9L933.2 392.1L935.7 394.4L938.2 392.6L940.7 393.4L943.2 390.4L945.7 392.9L948.2 393.8L950.7 393.0L953.2 390.4L955.7 393.4L958.2 390.6L960.7 392.4L963.2 391.1L965.7 390.1L968.2 391.5L970.7 392.9L973.2 389.2L973.2 401.6L970.7 405.6L968.2 405.7L965.7 403.8L963.2 404.1L960.7 403.1L958.2 404.3L955.7 405.0L953.2 406.2L950.7 405.3L948.2 403.0L945.7 402.5L943.2 404.6L940.7 402.8L938.2 405.1L935.7 405.4L933.2 404.0L930.7 404.8L928.2 406.7L925.7 406.5L923.2 406.3L920.7 402.7L918.2 403.6L915.7 403.3L913.2 402.5L910.7 405.8L908.2 404.5L905.7 405.9L903.2 405.7L900.7 406.0L898.2 402.7L895.7 402.1L893.2 404.3L890.7 402.6L888.2 404.4L885.7 405.4L883.2 404.5L880.7 402.4L878.2 403.1L875.7 403.9L873.2 404.2L870.7 406.4L868.2 405.4L865.7 401.6L863.2 404.4L860.7 403.2L858.2 401.6L855.7 400.8L853.2 402.8L850.7 403.8L848.2 405.3L845.7 401.9L843.2 404.2L840.7 402.5L838.2 402.5L835.7 402.1L833.2 405.7L830.7 402.4L828.2 404.5L825.7 402.5L823.2 404.8L820.7 401.3L818.2 403.4L815.7 401.6L813.2 406.0L810.7 404.5L808.2 404.0L805.7 406.3L803.2 403.1L800.7 403.0L798.2 402.9L795.7 403.8L793.2 405.1L790.7 406.5L788.2 406.8L785.7 403.4L783.2 403.5L780.7 404.5L778.2 403.7L775.7 403.0L773.2 405.4L770.7 402.9L768.2 402.7L765.7 405.4L763.2 402.0L760.7 403.1L758.2 403.6L755.7 404.7L753.2 405.6L750.7 404.7L748.2 404.8L745.7 404.7L743.2 406.2L740.7 404.9L738.2 402.5L735.7 402.7L733.2 401.6L730.7 402.6L728.2 402.4L725.7 404.3L723.2 404.9L720.7 404.4L718.2 401.2L715.7 405.1L713.2 401.7L710.7 401.2L708.2 401.3L705.7 403.2L703.2 404.2L700.7 400.4L698.2 401.7L695.7 403.1L693.2 403.3L690.7 402.1L688.2 399.4L685.7 399.8L683.2 400.4L680.7 396.2L678.2 397.4L675.7 395.1L673.2 396.7L670.7 396.8L668.2 398.5L665.7 400.8L663.2 397.0L660.7 401.1L658.2 396.6L655.7 397.6L653.2 395.8L650.7 398.7L648.2 396.8L645.7 400.4L643.2 401.2L640.7 398.7L638.2 397.5L635.7 398.5L633.2 399.7L630.7 396.3L628.2 397.3L625.7 396.4L623.2 397.6L620.7 396.5L618.2 396.3L615.7 398.3L613.2 398.5L610.7 395.7L608.2 398.2L605.7 398.8L603.2 398.1L600.7 396.9L598.2 396.7L595.7 399.0L593.2 398.3L590.7 397.0L588.2 397.8L585.7 396.1L583.2 397.1L580.7 394.3L578.2 397.4L575.7 396.0L573.2 396.4L570.7 399.1L568.2 398.8L565.7 394.2L563.2 396.1L560.7 396.4L558.2 394.7L555.7 392.2L553.2 394.1L550.7 395.5L548.2 395.1L545.7 391.7L543.2 393.2L540.7 392.2L538.2 389.8L535.7 391.7L533.2 387.2L530.7 387.8L528.2 388.3L525.7 384.8L523.2 384.5L520.7 383.9L518.2 383.9L515.7 383.6L513.2 381.7L510.7 383.5L508.2 383.8L505.7 380.7L503.2 380.1L500.7 377.1L498.2 374.7L495.7 376.9L493.2 379.6L490.7 379.4L488.2 376.2L485.7 380.1L483.2 382.3L480.7 381.1L478.2 382.8L475.7 381.1L473.2 381.2L470.7 380.9L468.2 381.4L465.7 386.1L463.2 385.2L460.7 385.7L458.2 382.6L455.7 384.4L453.2 385.2L450.7 385.9L448.2 385.2L445.7 387.7L443.2 384.8L440.7 386.2L438.2 385.6L435.7 387.6L433.2 385.3L430.7 386.3L428.2 385.9L425.7 388.2L423.2 387.6L420.7 384.8L418.2 388.6L415.7 386.5L413.2 388.0L410.7 387.7L408.2 386.7L405.7 387.5L403.2 386.6L400.7 383.0L398.2 382.6L395.7 380.4L393.2 379.5L390.7 378.5L388.2 381.4L385.7 380.9L383.2 377.7L380.7 379.3L378.2 383.5L375.7 384.0L373.2 383.2L370.7 381.5L368.2 383.2L365.7 380.0L363.2 382.7L360.7 380.4L358.2 378.7L355.7 377.5L353.2 376.8L350.7 377.2L348.2 378.8L345.7 379.7L343.2 377.4L340.7 377.4L338.2 375.3L335.7 371.3L333.2 371.8L330.7 372.8L328.2 371.2L325.7 368.4L323.2 368.7L320.7 368.3L318.2 362.9L315.7 361.2L313.2 359.8L310.7 358.8L308.2 353.9L305.7 353.3L303.2 347.9L300.7 346.5L298.2 341.8L295.7 339.3L293.2 336.5L290.7 331.7L288.2 327.9L285.7 323.6L283.2 321.5L280.7 318.7L278.2 316.3L275.7 316.3L273.2 312.9L270.7 314.2L268.2 314.2L265.7 312.2L263.2 314.5L260.7 313.4L258.2 316.9L255.7 319.6L253.2 321.4L250.7 324.9L248.2 326.7L245.7 327.3L243.2 329.1L240.7 333.4L238.2 337.1L235.7 341.5L233.2 342.6L230.7 345.4L228.2 348.4L225.7 348.9L223.2 353.5L220.7 353.3L218.2 355.8L215.7 361.2L213.2 364.0L210.7 366.1L208.2 364.7L205.7 366.2L203.2 369.7L200.7 368.5L198.2 368.8L195.7 368.8L193.2 371.9L190.7 370.7L188.2 373.4L185.7 372.3L183.2 374.9L180.7 374.3L178.2 374.3L175.7 374.9L173.2 377.3L170.7 376.6L168.2 376.7L165.7 376.6L163.2 377.3L160.7 376.8L158.2 372.3L155.7 371.8L153.2 374.3L150.7 371.5L148.2 373.7L145.7 369.3L143.2 367.3L140.7 365.3L138.2 363.8L135.7 363.6L133.2 362.8L130.7 358.8L128.2 357.9L125.7 354.6L123.2 355.4L120.7 351.5L118.2 349.5L115.7 348.9L113.2 344.7L110.7 345.3L108.2 343.9L105.7 340.5L103.2 343.9L100.7 342.3L98.2 343.1L95.7 341.4L93.2 344.1L90.7 340.9L88.2 341.8L85.7 339.9L83.2 341.0L80.7 339.3L78.2 343.5L75.7 340.8L73.2 343.7L70.7 343.0L68.2 343.6Z" fill="#000000" stroke="#000000" stroke-width="1.4" stroke-linejoin="round"/>
<path d="M68.2 229.2L69.7 231.1L71.2 233.0L72.7 234.7L74.2 236.2L75.7 237.7L77.2 239.2L78.7 240.5L80.2 241.6L81.7 242.6L83.2 243.7L84.7 244.8L86.2 245.7L87.7 246.6L89.2 247.5L90.7 248.4L92.2 249.3L93.7 250.2L95.2 251.1L96.7 252.0L98.2 252.8L99.7 253.4L101.2 254.0L102.7 254.6L104.2 255.2L105.7 255.8L107.2 256.4L108.7 257.0L110.2 257.6L111.7 258.0L113.2 258.4L114.7 258.8L116.2 259.2L117.7 259.7L119.2 260.1L120.7 260.5L122.2 260.9L123.7 261.3L125.2 261.6L126.7 262.0L128.2 262.4L129.7 262.7L131.2 263.1L132.7 263.4L134.2 263.8L135.7 264.1L137.2 264.4L138.7 264.6L140.2 264.8L141.7 265.1L143.2 265.3L144.7 265.6L146.2 265.8L147.7 266.0L149.2 265.9L150.7 265.7L152.2 265.6L153.7 265.5L155.2 265.4L156.7 265.3L158.2 265.1L159.7 265.0L161.2 264.8L162.7 264.5L164.2 264.2L165.7 263.9L167.2 263.6L168.7 263.3L170.2 263.0L171.7 262.7L173.2 262.3L174.7 261.8L176.2 261.3L177.7 260.8L179.2 260.4L180.7 259.9L182.2 259.4L183.7 258.9L185.2 258.4L186.7 257.5L188.2 256.6L189.7 255.7L191.2 254.8L192.7 253.9L194.2 253.0L195.7 252.1L197.2 251.2L198.7 250.2L200.2 249.2L201.7 248.1L203.2 247.1L204.7 246.1L206.2 245.1L207.7 244.1L209.2 243.0L210.7 242.0L212.2 241.0L213.7 240.0L215.2 239.0L216.7 237.9L218.2 236.9L219.7 235.9L221.2 234.9L222.7 233.9L224.2 232.9L225.7 232.0L227.2 231.0L228.7 230.0L230.2 229.1L231.7 228.1L233.2 227.2L234.7 226.2L236.2 225.5L237.7 224.9L239.2 224.3L240.7 223.7L242.2 223.1L243.7 222.5L245.2 221.9L246.7 221.3L248.2 220.7L249.7 220.1L251.2 219.5L252.7 218.9L254.2 218.3L255.7 217.7L257.2 217.1L258.7 217.5L260.2 218.1L261.7 218.7L263.2 219.3L264.7 219.9L266.2 220.5L267.7 221.1L269.2 222.2L270.7 223.3L272.2 224.4L273.7 225.5L275.2 226.5L276.7 227.6L278.2 228.7L279.7 229.8L281.2 231.0L282.7 232.2L284.2 233.4L285.7 234.6L287.2 235.8L288.7 237.0L290.2 238.2L291.7 239.4L293.2 240.9L294.7 242.9L296.2 244.9L297.7 246.9L299.2 248.9L300.7 250.6L302.2 251.9L303.7 253.3L305.2 254.6L306.7 255.9L308.2 257.2L309.7 258.5L311.2 259.9L312.7 261.1L314.2 262.2L315.7 263.3L317.2 264.4L318.7 265.5L320.2 266.5L321.7 267.6L323.2 268.7L324.7 269.8L326.2 270.5L327.7 271.1L329.2 271.7L330.7 272.3L332.2 272.9L333.7 273.5L335.2 274.1L336.7 274.7L338.2 275.3L339.7 275.9L341.2 276.5L342.7 277.1L344.2 277.7L345.7 278.3L347.2 278.9L348.7 279.5L350.2 280.1L351.7 280.5L353.2 280.9L354.7 281.3L356.2 281.7L357.7 282.2L359.2 282.6L360.7 283.0L362.2 283.4L363.7 283.7L365.2 284.0L366.7 284.3L368.2 284.6L369.7 284.9L371.2 285.2L372.7 285.5L374.2 285.8L375.7 286.0L377.2 286.1L378.7 286.1L380.2 286.2L381.7 286.3L383.2 286.3L384.7 286.4L386.2 286.4L387.7 286.5L389.2 286.6L390.7 286.8L392.2 286.9L393.7 287.0L395.2 287.1L396.7 287.2L398.2 287.4L399.7 287.5L401.2 287.5L402.7 287.5L404.2 287.5L405.7 287.5L407.2 287.5L408.7 287.5L410.2 287.5L411.7 287.5L413.2 287.4L414.7 287.2L416.2 287.1L417.7 286.9L419.2 286.7L420.7 286.5L422.2 286.3L423.7 286.2L425.2 286.0L426.7 285.9L428.2 285.7L429.7 285.6L431.2 285.5L432.7 285.4L434.2 285.3L435.7 285.1L437.2 285.0L438.7 284.8L440.2 284.5L441.7 284.2L443.2 283.9L444.7 283.6L446.2 283.3L447.7 283.0L449.2 282.7L450.7 282.3L452.2 281.8L453.7 281.3L455.2 280.8L456.7 280.4L458.2 279.9L459.7 279.4L461.2 278.9L462.7 278.4L464.2 277.7L465.7 277.0L467.2 276.2L468.7 275.5L470.2 274.8L471.7 274.1L473.2 273.4L474.7 272.6L476.2 272.2L477.7 271.7L479.2 271.3L480.7 270.9L482.2 270.5L483.7 270.1L485.2 269.6L486.7 269.2L488.2 268.9L489.7 268.7L491.2 268.6L492.7 268.4L494.2 268.2L495.7 268.0L497.2 267.8L498.7 267.7L500.2 267.5L501.7 267.7L503.2 267.9L504.7 268.1L506.2 268.2L507.7 268.4L509.2 268.6L510.7 268.8L512.2 269.0L513.7 269.7L515.2 270.5L516.7 271.4L518.2 272.2L519.7 273.0L521.2 273.9L522.7 274.7L524.2 275.6L525.7 276.3L527.2 276.9L528.7 277.5L530.2 278.1L531.7 278.7L533.2 279.3L534.7 279.9L536.2 280.5L537.7 281.1L539.2 281.5L540.7 282.0L542.2 282.5L543.7 283.0L545.2 283.5L546.7 283.9L548.2 284.4L549.7 284.9L551.2 285.3L552.7 285.6L554.2 286.0L555.7 286.3L557.2 286.7L558.7 287.0L560.2 287.4L561.7 287.7L563.2 288.1L564.7 288.4L566.2 288.7L567.7 288.9L569.2 289.2L570.7 289.4L572.2 289.7L573.7 289.9L575.2 290.1L576.7 290.4L578.2 290.6L579.7 290.9L581.2 291.1L582.7 291.3L584.2 291.6L585.7 291.8L587.2 292.1L588.7 292.3L590.2 292.5L591.7 292.7L593.2 292.9L594.7 293.2L596.2 293.4L597.7 293.6L599.2 293.8L600.7 294.0L602.2 294.2L603.7 294.4L605.2 294.6L606.7 294.8L608.2 295.0L609.7 295.3L611.2 295.5L612.7 295.7L614.2 295.9L615.7 296.0L617.2 296.1L618.7 296.2L620.2 296.3L621.7 296.4L623.2 296.5L624.7 296.6L626.2 296.7L627.7 296.8L629.2 296.9L630.7 296.9L632.2 297.0L633.7 297.1L635.2 297.2L636.7 297.3L638.2 297.4L639.7 297.5L641.2 297.7L642.7 297.9L644.2 298.1L645.7 298.3L647.2 298.5L648.7 298.7L650.2 298.9L651.7 299.1L653.2 299.3L654.7 299.6L656.2 299.8L657.7 300.0L659.2 300.2L660.7 300.4L662.2 300.6L663.7 300.8L665.2 301.0L666.7 301.2L668.2 301.3L669.7 301.5L671.2 301.6L672.7 301.8L674.2 301.9L675.7 302.1L677.2 302.2L678.7 302.4L680.2 302.5L681.7 302.7L683.2 302.8L684.7 303.0L686.2 303.1L687.7 303.3L689.2 303.4L690.7 303.6L692.2 303.7L693.7 303.9L695.2 304.0L696.7 304.2L698.2 304.3L699.7 304.5L701.2 304.6L702.7 304.8L704.2 304.9L705.7 305.1L707.2 305.2L708.7 305.4L710.2 305.5L711.7 305.7L713.2 305.8L714.7 306.0L716.2 306.1L717.7 306.2L719.2 306.3L720.7 306.3L722.2 306.4L723.7 306.5L725.2 306.6L726.7 306.7L728.2 306.8L729.7 306.9L731.2 307.0L732.7 307.1L734.2 307.2L735.7 307.2L737.2 307.3L738.7 307.4L740.2 307.5L741.7 307.6L743.2 307.6L744.7 307.7L746.2 307.7L747.7 307.8L749.2 307.9L750.7 307.9L752.2 308.0L753.7 308.0L755.2 308.1L756.7 308.2L758.2 308.2L759.7 308.3L761.2 308.3L762.7 308.4L764.2 308.5L765.7 308.5L767.2 308.6L768.7 308.7L770.2 308.8L771.7 308.9L773.2 309.0L774.7 309.1L776.2 309.2L777.7 309.3L779.2 309.4L780.7 309.4L782.2 309.5L783.7 309.6L785.2 309.7L786.7 309.8L788.2 309.9L789.7 310.0L791.2 310.0L792.7 310.0L794.2 310.0L795.7 310.0L797.2 310.1L798.7 310.1L800.2 310.1L801.7 310.1L803.2 310.1L804.7 310.1L806.2 310.1L807.7 310.1L809.2 310.2L810.7 310.2L812.2 310.2L813.7 310.2L815.2 310.2L816.7 310.2L818.2 310.2L819.7 310.2L821.2 310.3L822.7 310.3L824.2 310.3L825.7 310.3L827.2 310.3L828.7 310.3L830.2 310.3L831.7 310.3L833.2 310.4L834.7 310.4L836.2 310.4L837.7 310.4L839.2 310.4L840.7 310.4L842.2 310.4L843.7 310.4L845.2 310.5L846.7 310.5L848.2 310.5L849.7 310.5L851.2 310.5L852.7 310.4L854.2 310.4L855.7 310.3L857.2 310.3L858.7 310.2L860.2 310.2L861.7 310.2L863.2 310.1L864.7 310.1L866.2 310.0L867.7 310.0L869.2 309.9L870.7 309.9L872.2 309.8L873.7 309.8L875.2 309.8L876.7 309.7L878.2 309.7L879.7 309.6L881.2 309.6L882.7 309.5L884.2 309.5L885.7 309.5L887.2 309.4L888.7 309.4L890.2 309.3L891.7 309.3L893.2 309.2L894.7 309.2L896.2 309.1L897.7 309.1L899.2 309.1L900.7 309.0L902.2 309.0L903.7 308.9L905.2 308.9L906.7 308.8L908.2 308.8L909.7 308.7L911.2 308.7L912.7 308.7L914.2 308.6L915.7 308.6L917.2 308.5L918.7 308.5L920.2 308.4L921.7 308.4L923.2 308.4L924.7 308.3L926.2 308.3L927.7 308.3L929.2 308.3L930.7 308.2L932.2 308.2L933.7 308.2L935.2 308.2L936.7 308.2L938.2 308.2L939.7 308.2L941.2 308.1L942.7 308.1L944.2 308.1L945.7 308.1L947.2 308.1L948.7 308.1L950.2 308.0L951.7 308.0L953.2 308.0L954.7 308.0L956.2 308.0L957.7 308.0L959.2 308.0L960.7 307.9L962.2 307.9L963.7 307.9L965.2 307.9L966.7 307.9L968.2 307.9L969.7 307.9L971.2 307.8L972.7 307.8L974.2 307.8" fill="none" stroke="#ff0000" stroke-width="9.0" stroke-linejoin="round" stroke-linecap="butt"/>
<path d="M68.2 223.7L70.7 225.3L73.2 229.1L75.7 225.9L78.2 231.6L80.7 234.6L83.2 235.6L85.7 233.7L88.2 237.6L90.7 234.5L93.2 239.6L95.7 241.0L98.2 242.6L100.7 242.5L103.2 246.3L105.7 250.3L108.2 246.4L110.7 247.4L113.2 252.7L115.7 249.9L118.2 252.8L120.7 251.4L123.2 253.2L125.7 250.6L128.2 255.0L130.7 251.2L133.2 252.1L135.7 255.6L138.2 254.8L140.7 257.2L143.2 256.4L145.7 257.0L148.2 256.9L150.7 257.8L153.2 259.0L155.7 254.6L158.2 259.6L160.7 258.4L163.2 254.4L165.7 253.0L168.2 253.9L170.7 254.5L173.2 250.4L175.7 248.4L178.2 253.8L180.7 252.9L183.2 251.0L185.7 251.0L188.2 248.3L190.7 243.3L193.2 246.2L195.7 244.3L198.2 243.8L200.7 242.6L203.2 241.9L205.7 236.7L208.2 233.3L210.7 235.4L213.2 229.1L215.7 226.7L218.2 227.5L220.7 226.2L223.2 224.8L225.7 221.7L228.2 223.0L230.7 220.7L233.2 216.6L235.7 215.0L238.2 217.3L240.7 214.5L243.2 215.8L245.7 215.7L248.2 213.6L250.7 210.9L253.2 208.9L255.7 211.3L258.2 206.6L260.7 209.4L263.2 206.5L265.7 207.7L268.2 211.4L270.7 216.4L273.2 219.1L275.7 220.1L278.2 220.2L280.7 219.6L283.2 226.1L285.7 229.8L288.2 231.2L290.7 228.3L293.2 232.7L295.7 236.3L298.2 239.1L300.7 243.7L303.2 247.0L305.7 244.2L308.2 246.0L310.7 252.3L313.2 254.4L315.7 254.0L318.2 256.2L320.7 255.6L323.2 260.6L325.7 260.8L328.2 265.4L330.7 264.3L333.2 267.2L335.7 268.2L338.2 268.1L340.7 269.5L343.2 271.3L345.7 271.6L348.2 270.0L350.7 269.5L353.2 270.3L355.7 270.4L358.2 274.5L360.7 270.7L363.2 273.8L365.7 272.1L368.2 276.8L370.7 277.6L373.2 278.3L375.7 274.9L378.2 278.4L380.7 275.4L383.2 276.5L385.7 278.5L388.2 277.8L390.7 282.3L393.2 278.4L395.7 278.5L398.2 279.2L400.7 279.1L403.2 280.5L405.7 276.0L408.2 281.4L410.7 281.4L413.2 278.2L415.7 277.5L418.2 277.3L420.7 278.0L423.2 276.1L425.7 277.8L428.2 280.1L430.7 277.8L433.2 275.9L435.7 277.0L438.2 277.6L440.7 276.6L443.2 275.8L445.7 273.0L448.2 276.3L450.7 277.4L453.2 272.0L455.7 275.7L458.2 270.7L460.7 274.8L463.2 274.1L465.7 268.2L468.2 270.2L470.7 268.3L473.2 266.2L475.7 267.0L478.2 262.8L480.7 265.9L483.2 265.0L485.7 263.2L488.2 260.2L490.7 261.7L493.2 261.9L495.7 257.8L498.2 258.6L500.7 257.3L503.2 262.4L505.7 261.1L508.2 262.4L510.7 265.3L513.2 264.6L515.7 264.3L518.2 261.3L520.7 265.9L523.2 265.4L525.7 267.7L528.2 269.7L530.7 270.9L533.2 271.7L535.7 273.6L538.2 274.8L540.7 277.4L543.2 277.7L545.7 276.5L548.2 279.9L550.7 278.3L553.2 279.7L555.7 278.2L558.2 280.7L560.7 277.2L563.2 279.4L565.7 281.1L568.2 281.8L570.7 284.9L573.2 281.8L575.7 284.2L578.2 286.6L580.7 287.1L583.2 287.5L585.7 285.6L588.2 287.7L590.7 287.4L593.2 284.1L595.7 284.1L598.2 286.9L600.7 289.4L603.2 288.3L605.7 284.5L608.2 288.7L610.7 284.4L613.2 289.6L615.7 285.2L618.2 287.7L620.7 290.4L623.2 290.7L625.7 287.9L628.2 289.5L630.7 287.5L633.2 289.4L635.7 292.2L638.2 288.2L640.7 292.3L643.2 292.4L645.7 292.7L648.2 291.0L650.7 292.6L653.2 291.2L655.7 290.0L658.2 294.6L660.7 295.7L663.2 294.5L665.7 292.4L668.2 292.4L670.7 293.9L673.2 294.1L675.7 296.0L678.2 293.4L680.7 296.0L683.2 296.2L685.7 298.5L688.2 299.2L690.7 297.3L693.2 299.6L695.7 298.9L698.2 298.9L700.7 296.9L703.2 297.3L705.7 297.7L708.2 295.7L710.7 300.0L713.2 296.7L715.7 297.3L718.2 299.1L720.7 298.8L723.2 298.9L725.7 300.0L728.2 300.3L730.7 299.3L733.2 296.8L735.7 300.7L738.2 301.4L740.7 300.1L743.2 300.2L745.7 298.5L748.2 298.8L750.7 302.4L753.2 301.7L755.7 302.1L758.2 300.2L760.7 302.1L763.2 300.6L765.7 303.0L768.2 299.3L770.7 303.0L773.2 301.3L775.7 303.2L778.2 301.8L780.7 302.8L783.2 302.2L785.7 304.3L788.2 305.0L790.7 304.2L793.2 302.0L795.7 303.0L798.2 303.3L800.7 302.9L803.2 301.3L805.7 304.0L808.2 304.6L810.7 301.0L813.2 301.4L815.7 301.6L818.2 300.0L820.7 302.5L823.2 304.4L825.7 306.2L828.2 303.3L830.7 304.9L833.2 304.5L835.7 304.6L838.2 300.8L840.7 305.0L843.2 304.8L845.7 302.4L848.2 300.6L850.7 301.6L853.2 302.2L855.7 302.5L858.2 303.8L860.7 305.9L863.2 304.7L865.7 305.3L868.2 301.6L870.7 305.9L873.2 301.6L875.7 301.2L878.2 304.3L880.7 302.7L883.2 303.4L885.7 303.3L888.2 302.4L890.7 303.4L893.2 299.4L895.7 303.8L898.2 303.3L900.7 304.4L903.2 304.2L905.7 301.5L908.2 301.0L910.7 302.3L913.2 304.7L915.7 304.6L918.2 303.5L920.7 302.0L923.2 302.4L925.7 300.6L928.2 301.9L930.7 303.6L933.2 302.3L935.7 304.3L938.2 303.2L940.7 301.9L943.2 301.5L945.7 304.4L948.2 303.2L950.7 303.0L953.2 302.3L955.7 301.0L958.2 299.7L960.7 298.6L963.2 300.1L965.7 299.2L968.2 299.4L970.7 302.9L973.2 301.4L973.2 313.9L970.7 315.4L968.2 314.0L965.7 312.9L963.2 312.5L960.7 311.3L958.2 312.6L955.7 312.8L953.2 312.9L950.7 315.5L948.2 317.2L945.7 315.3L943.2 317.1L940.7 314.5L938.2 314.8L935.7 317.1L933.2 314.3L930.7 316.4L928.2 317.5L925.7 315.7L923.2 316.7L920.7 313.7L918.2 315.4L915.7 316.5L913.2 314.9L910.7 313.3L908.2 315.1L905.7 315.7L903.2 314.3L900.7 318.9L898.2 316.7L895.7 316.8L893.2 315.3L890.7 313.1L888.2 316.5L885.7 315.4L883.2 313.4L880.7 318.2L878.2 314.3L875.7 317.2L873.2 314.9L870.7 318.3L868.2 318.4L865.7 316.6L863.2 316.3L860.7 317.6L858.2 319.7L855.7 319.4L853.2 315.7L850.7 317.1L848.2 319.0L845.7 316.5L843.2 316.0L840.7 314.7L838.2 319.4L835.7 316.1L833.2 318.1L830.7 318.8L828.2 315.9L825.7 318.3L823.2 320.2L820.7 319.6L818.2 314.6L815.7 315.4L813.2 314.5L810.7 318.3L808.2 316.7L805.7 316.8L803.2 317.0L800.7 314.4L798.2 317.8L795.7 314.8L793.2 315.9L790.7 317.5L788.2 315.9L785.7 318.9L783.2 318.3L780.7 316.9L778.2 313.8L775.7 317.1L773.2 314.9L770.7 314.9L768.2 317.0L765.7 314.9L763.2 314.9L760.7 313.8L758.2 313.4L755.7 316.7L753.2 312.6L750.7 313.8L748.2 316.4L745.7 315.7L743.2 316.4L740.7 314.1L738.2 313.0L735.7 311.2L733.2 311.2L730.7 312.0L728.2 316.5L725.7 313.8L723.2 313.3L720.7 312.5L718.2 311.3L715.7 312.5L713.2 312.5L710.7 315.2L708.2 311.5L705.7 309.5L703.2 314.4L700.7 309.8L698.2 313.4L695.7 310.0L693.2 310.1L690.7 310.9L688.2 310.1L685.7 312.1L683.2 310.0L680.7 311.9L678.2 309.0L675.7 308.6L673.2 310.5L670.7 308.5L668.2 308.8L665.7 306.8L663.2 308.9L660.7 307.3L658.2 307.9L655.7 306.3L653.2 308.5L650.7 306.1L648.2 303.7L645.7 306.3L643.2 303.2L640.7 306.0L638.2 302.8L635.7 303.5L633.2 303.1L630.7 304.6L628.2 302.5L625.7 302.4L623.2 302.7L620.7 304.2L618.2 302.0L615.7 302.1L613.2 300.5L610.7 299.8L608.2 302.7L605.7 300.0L603.2 304.1L600.7 301.7L598.2 303.0L595.7 300.0L593.2 299.4L590.7 299.4L588.2 303.9L585.7 300.9L583.2 298.8L580.7 300.3L578.2 298.3L575.7 298.3L573.2 296.6L570.7 299.8L568.2 296.2L565.7 297.1L563.2 296.4L560.7 292.5L558.2 295.3L555.7 290.9L553.2 295.6L550.7 295.7L548.2 295.7L545.7 292.3L543.2 290.1L540.7 292.7L538.2 286.9L535.7 287.2L533.2 285.7L530.7 287.4L528.2 282.1L525.7 282.7L523.2 279.8L520.7 280.6L518.2 279.0L515.7 277.5L513.2 277.8L510.7 277.4L508.2 277.0L505.7 275.4L503.2 274.2L500.7 277.0L498.2 272.2L495.7 275.4L493.2 276.1L490.7 276.3L488.2 278.8L485.7 275.7L483.2 278.8L480.7 282.7L478.2 280.3L475.7 278.3L473.2 278.4L470.7 280.6L468.2 284.4L465.7 289.4L463.2 286.6L460.7 285.9L458.2 290.4L455.7 288.3L453.2 290.8L450.7 288.7L448.2 291.8L445.7 293.3L443.2 294.0L440.7 292.4L438.2 289.9L435.7 291.6L433.2 291.0L430.7 290.8L428.2 296.4L425.7 292.5L423.2 292.6L420.7 294.0L418.2 294.7L415.7 296.7L413.2 294.0L410.7 297.9L408.2 296.0L405.7 293.1L403.2 294.0L400.7 296.8L398.2 292.8L395.7 296.1L393.2 294.0L390.7 294.3L388.2 296.4L385.7 296.3L383.2 293.2L380.7 296.4L378.2 291.8L375.7 291.6L373.2 291.0L370.7 290.5L368.2 293.1L365.7 290.0L363.2 288.7L360.7 288.0L358.2 287.9L355.7 288.8L353.2 286.3L350.7 289.2L348.2 286.7L345.7 286.8L343.2 285.5L340.7 284.3L338.2 285.9L335.7 280.3L333.2 283.9L330.7 280.4L328.2 281.6L325.7 280.4L323.2 280.7L320.7 275.2L318.2 271.2L315.7 270.9L313.2 272.2L310.7 267.9L308.2 265.2L305.7 263.3L303.2 259.6L300.7 258.5L298.2 257.3L295.7 252.0L293.2 248.8L290.7 247.5L288.2 246.2L285.7 247.4L283.2 241.4L280.7 238.4L278.2 239.9L275.7 235.5L273.2 231.9L270.7 230.0L268.2 232.6L265.7 226.1L263.2 226.0L260.7 228.6L258.2 226.2L255.7 225.2L253.2 226.2L250.7 231.6L248.2 233.9L245.7 228.8L243.2 230.5L240.7 230.7L238.2 232.0L235.7 233.6L233.2 234.9L230.7 235.8L228.2 236.9L225.7 241.7L223.2 240.5L220.7 242.2L218.2 249.4L215.7 249.6L213.2 250.2L210.7 249.6L208.2 253.1L205.7 255.1L203.2 256.1L200.7 258.0L198.2 259.4L195.7 263.5L193.2 262.8L190.7 261.5L188.2 262.5L185.7 265.5L183.2 268.6L180.7 266.7L178.2 269.9L175.7 269.3L173.2 271.6L170.7 274.0L168.2 275.8L165.7 271.8L163.2 272.5L160.7 274.7L158.2 276.8L155.7 278.9L153.2 276.9L150.7 275.3L148.2 277.2L145.7 271.9L143.2 275.6L140.7 275.6L138.2 271.6L135.7 273.8L133.2 271.4L130.7 272.1L128.2 273.6L125.7 273.9L123.2 268.1L120.7 272.3L118.2 269.0L115.7 266.9L113.2 271.1L110.7 267.1L108.2 264.7L105.7 264.2L103.2 268.0L100.7 263.6L98.2 265.1L95.7 262.9L93.2 259.6L90.7 256.0L88.2 253.8L85.7 251.2L83.2 251.0L80.7 249.6L78.2 251.0L75.7 248.9L73.2 246.6L70.7 243.2L68.2 237.9Z" fill="#ff0000" stroke="#ff0000" stroke-width="1.4" stroke-linejoin="round"/>
<path d="M68.2 155.5L69.7 155.5L71.2 155.6L72.7 155.6L74.2 155.7L75.7 155.7L77.2 155.7L78.7 155.8L80.2 155.8L81.7 155.9L83.2 155.9L84.7 155.9L86.2 156.0L87.7 156.0L89.2 155.8L90.7 155.6L92.2 155.4L93.7 155.2L95.2 155.0L96.7 154.8L98.2 154.6L99.7 154.4L101.2 154.2L102.7 153.9L104.2 153.5L105.7 153.0L107.2 152.6L108.7 152.1L110.2 151.6L111.7 150.9L113.2 150.1L114.7 149.4L116.2 148.6L117.7 147.9L119.2 147.0L120.7 146.1L122.2 145.2L123.7 144.3L125.2 143.4L126.7 142.8L128.2 142.2L129.7 141.6L131.2 141.0L132.7 140.5L134.2 140.3L135.7 140.2L137.2 140.0L138.7 139.8L140.2 139.8L141.7 140.4L143.2 141.0L144.7 141.6L146.2 142.2L147.7 142.7L149.2 143.0L150.7 143.3L152.2 143.6L153.7 143.9L155.2 144.2L156.7 144.1L158.2 144.1L159.7 144.0L161.2 143.9L162.7 143.8L164.2 143.8L165.7 143.7L167.2 143.6L168.7 143.6L170.2 143.5L171.7 143.8L173.2 144.1L174.7 144.4L176.2 144.7L177.7 145.1L179.2 145.8L180.7 146.6L182.2 147.3L183.7 148.1L185.2 148.7L186.7 148.9L188.2 149.0L189.7 149.2L191.2 149.3L192.7 149.5L194.2 149.6L195.7 149.8L197.2 149.9L198.7 150.1L200.2 150.2L201.7 150.5L203.2 150.7L204.7 150.9L206.2 151.1L207.7 151.4L209.2 151.6L210.7 151.8L212.2 151.9L213.7 151.5L215.2 151.1L216.7 150.7L218.2 150.2L219.7 149.8L221.2 149.4L222.7 148.9L224.2 148.3L225.7 147.7L227.2 147.1L228.7 146.5L230.2 145.9L231.7 145.3L233.2 144.7L234.7 144.1L236.2 143.5L237.7 142.9L239.2 142.3L240.7 141.7L242.2 141.1L243.7 140.5L245.2 139.9L246.7 139.3L248.2 138.6L249.7 137.6L251.2 136.6L252.7 135.7L254.2 134.7L255.7 133.8L257.2 132.8L258.7 131.8L260.2 130.8L261.7 129.0L263.2 127.2L264.7 125.4L266.2 123.6L267.7 121.8L269.2 120.0L270.7 118.2L272.2 116.4L273.7 114.6L275.2 112.8L276.7 111.0L278.2 109.6L279.7 108.7L281.2 107.8L282.7 106.9L284.2 106.0L285.7 103.9L287.2 99.5L288.7 88.0L290.2 98.8L291.7 105.8L293.2 109.9L294.7 111.8L296.2 113.7L297.7 115.6L299.2 117.5L300.7 119.2L302.2 120.6L303.7 122.0L305.2 123.4L306.7 124.8L308.2 125.9L309.7 126.7L311.2 127.5L312.7 128.3L314.2 129.1L315.7 129.6L317.2 129.8L318.7 130.0L320.2 130.2L321.7 130.4L323.2 130.6L324.7 130.8L326.2 131.0L327.7 131.2L329.2 131.4L330.7 131.6L332.2 131.7L333.7 131.9L335.2 132.0L336.7 132.2L338.2 132.3L339.7 132.5L341.2 132.6L342.7 132.8L344.2 132.9L345.7 133.3L347.2 133.9L348.7 134.5L350.2 135.1L351.7 135.7L353.2 136.3L354.7 136.9L356.2 137.5L357.7 138.1L359.2 138.7L360.7 139.2L362.2 139.7L363.7 140.1L365.2 140.6L366.7 141.0L368.2 141.5L369.7 141.9L371.2 142.4L372.7 142.8L374.2 143.3L375.7 143.7L377.2 144.2L378.7 144.7L380.2 145.2L381.7 145.6L383.2 146.1L384.7 146.6L386.2 147.1L387.7 147.6L389.2 148.0L390.7 148.4L392.2 148.8L393.7 149.2L395.2 149.7L396.7 150.1L398.2 150.5L399.7 150.9L401.2 151.2L402.7 151.5L404.2 151.8L405.7 152.1L407.2 152.4L408.7 152.7L410.2 153.0L411.7 153.3L413.2 153.6L414.7 153.8L416.2 153.9L417.7 154.1L419.2 154.3L420.7 154.5L422.2 154.7L423.7 154.8L425.2 155.0L426.7 154.9L428.2 154.7L429.7 154.6L431.2 154.5L432.7 154.4L434.2 154.3L435.7 154.1L437.2 154.0L438.7 153.9L440.2 153.7L441.7 153.5L443.2 153.3L444.7 153.1L446.2 153.0L447.7 152.8L449.2 152.6L450.7 152.6L452.2 152.7L453.7 152.8L455.2 152.9L456.7 153.0L458.2 153.2L459.7 153.3L461.2 153.4L462.7 153.5L464.2 153.7L465.7 153.9L467.2 154.1L468.7 154.2L470.2 154.4L471.7 154.6L473.2 154.8L474.7 155.0L476.2 154.8L477.7 154.5L479.2 154.2L480.7 153.9L482.2 153.6L483.7 153.3L485.2 153.0L486.7 152.7L488.2 152.6L489.7 152.8L491.2 152.9L492.7 153.1L494.2 153.3L495.7 153.5L497.2 153.7L498.7 153.8L500.2 154.1L501.7 154.5L503.2 154.9L504.7 155.3L506.2 155.7L507.7 156.2L509.2 156.6L510.7 157.0L512.2 157.4L513.7 157.8L515.2 158.3L516.7 158.7L518.2 159.1L519.7 159.5L521.2 159.9L522.7 160.4L524.2 160.8L525.7 161.2L527.2 161.7L528.7 162.2L530.2 162.7L531.7 163.1L533.2 163.6L534.7 164.1L536.2 164.6L537.7 165.0L539.2 165.3L540.7 165.6L542.2 165.9L543.7 166.2L545.2 166.5L546.7 166.8L548.2 167.1L549.7 167.4L551.2 167.6L552.7 167.8L554.2 167.9L555.7 168.1L557.2 168.2L558.7 168.4L560.2 168.5L561.7 168.7L563.2 168.8L564.7 169.0L566.2 169.1L567.7 169.2L569.2 169.3L570.7 169.5L572.2 169.6L573.7 169.7L575.2 169.8L576.7 169.9L578.2 170.1L579.7 170.2L581.2 170.3L582.7 170.4L584.2 170.5L585.7 170.7L587.2 170.8L588.7 170.9L590.2 171.0L591.7 171.2L593.2 171.3L594.7 171.5L596.2 171.6L597.7 171.8L599.2 171.9L600.7 172.1L602.2 172.2L603.7 172.4L605.2 172.5L606.7 172.7L608.2 172.8L609.7 173.0L611.2 173.1L612.7 173.3L614.2 173.4L615.7 173.5L617.2 173.5L618.7 173.6L620.2 173.6L621.7 173.6L623.2 173.7L624.7 173.7L626.2 173.7L627.7 173.8L629.2 173.8L630.7 173.8L632.2 173.8L633.7 173.9L635.2 173.9L636.7 173.9L638.2 174.0L639.7 174.0L641.2 174.2L642.7 174.4L644.2 174.6L645.7 174.8L647.2 175.0L648.7 175.2L650.2 175.4L651.7 175.6L653.2 175.8L654.7 176.1L656.2 176.3L657.7 176.5L659.2 176.7L660.7 176.9L662.2 177.1L663.7 177.3L665.2 177.5L666.7 177.7L668.2 177.8L669.7 178.0L671.2 178.1L672.7 178.3L674.2 178.4L675.7 178.6L677.2 178.7L678.7 178.9L680.2 179.0L681.7 179.2L683.2 179.3L684.7 179.5L686.2 179.6L687.7 179.8L689.2 179.9L690.7 180.0L692.2 180.0L693.7 180.0L695.2 180.0L696.7 180.0L698.2 180.0L699.7 180.0L701.2 180.0L702.7 180.0L704.2 180.0L705.7 180.0L707.2 180.0L708.7 180.0L710.2 180.0L711.7 180.0L713.2 180.0L714.7 180.0L716.2 180.0L717.7 180.1L719.2 180.2L720.7 180.2L722.2 180.3L723.7 180.3L725.2 180.4L726.7 180.5L728.2 180.5L729.7 180.6L731.2 180.6L732.7 180.7L734.2 180.8L735.7 180.8L737.2 180.9L738.7 180.9L740.2 181.0L741.7 181.1L743.2 181.2L744.7 181.3L746.2 181.4L747.7 181.5L749.2 181.6L750.7 181.6L752.2 181.7L753.7 181.8L755.2 181.9L756.7 182.0L758.2 182.1L759.7 182.2L761.2 182.3L762.7 182.4L764.2 182.5L765.7 182.5L767.2 182.6L768.7 182.6L770.2 182.7L771.7 182.8L773.2 182.8L774.7 182.9L776.2 182.9L777.7 183.0L779.2 183.1L780.7 183.1L782.2 183.2L783.7 183.2L785.2 183.3L786.7 183.4L788.2 183.4L789.7 183.5L791.2 183.6L792.7 183.7L794.2 183.8L795.7 183.9L797.2 184.0L798.7 184.1L800.2 184.2L801.7 184.3L803.2 184.4L804.7 184.5L806.2 184.6L807.7 184.7L809.2 184.8L810.7 184.9L812.2 185.0L813.7 185.0L815.2 185.0L816.7 185.1L818.2 185.1L819.7 185.1L821.2 185.1L822.7 185.2L824.2 185.2L825.7 185.2L827.2 185.2L828.7 185.3L830.2 185.3L831.7 185.3L833.2 185.3L834.7 185.4L836.2 185.4L837.7 185.4L839.2 185.4L840.7 185.5L842.2 185.5L843.7 185.5L845.2 185.5L846.7 185.5L848.2 185.6L849.7 185.6L851.2 185.6L852.7 185.6L854.2 185.7L855.7 185.7L857.2 185.7L858.7 185.7L860.2 185.8L861.7 185.8L863.2 185.8L864.7 185.8L866.2 185.9L867.7 185.9L869.2 185.9L870.7 185.9L872.2 186.0L873.7 186.0L875.2 186.0L876.7 186.0L878.2 186.0L879.7 186.1L881.2 186.1L882.7 186.1L884.2 186.1L885.7 186.2L887.2 186.2L888.7 186.2L890.2 186.2L891.7 186.3L893.2 186.3L894.7 186.3L896.2 186.3L897.7 186.3L899.2 186.4L900.7 186.4L902.2 186.4L903.7 186.4L905.2 186.5L906.7 186.5L908.2 186.5L909.7 186.5L911.2 186.5L912.7 186.6L914.2 186.6L915.7 186.6L917.2 186.6L918.7 186.7L920.2 186.7L921.7 186.7L923.2 186.7L924.7 186.7L926.2 186.8L927.7 186.8L929.2 186.8L930.7 186.8L932.2 186.9L933.7 186.9L935.2 186.9L936.7 186.9L938.2 186.9L939.7 187.0L941.2 187.0L942.7 187.0L944.2 187.0L945.7 187.1L947.2 187.1L948.7 187.1L950.2 187.1L951.7 187.2L953.2 187.2L954.7 187.2L956.2 187.2L957.7 187.2L959.2 187.3L960.7 187.3L962.2 187.3L963.7 187.3L965.2 187.4L966.7 187.4L968.2 187.4L969.7 187.4L971.2 187.4L972.7 187.5L974.2 187.5" fill="none" stroke="#ff00ff" stroke-width="9.0" stroke-linejoin="round" stroke-linecap="butt"/>
<path d="M68.2 146.4L70.7 147.3L73.2 149.4L75.7 145.8L78.2 144.7L80.7 148.5L83.2 146.6L85.7 146.1L88.2 149.1L90.7 146.5L93.2 147.2L95.7 145.6L98.2 147.4L100.7 141.3L103.2 146.3L105.7 140.4L108.2 144.7L110.7 140.6L113.2 140.1L115.7 142.5L118.2 140.2L120.7 135.5L123.2 137.1L125.7 136.7L128.2 136.0L130.7 134.9L133.2 133.7L135.7 130.2L138.2 127.2L140.7 130.3L143.2 134.9L145.7 132.1L148.2 136.5L150.7 136.6L153.2 134.5L155.7 136.6L158.2 134.9L160.7 132.6L163.2 135.0L165.7 136.3L168.2 131.5L170.7 134.0L173.2 134.2L175.7 135.1L178.2 138.9L180.7 139.7L183.2 141.0L185.7 142.2L188.2 142.2L190.7 139.2L193.2 141.3L195.7 140.5L198.2 143.1L200.7 139.0L203.2 144.5L205.7 141.7L208.2 142.0L210.7 143.6L213.2 145.9L215.7 143.7L218.2 145.0L220.7 138.2L223.2 142.3L225.7 141.9L228.2 139.7L230.7 137.9L233.2 137.5L235.7 135.0L238.2 135.2L240.7 131.5L243.2 130.0L245.7 127.4L248.2 131.6L250.7 125.3L253.2 126.1L255.7 126.1L258.2 120.6L260.7 118.9L263.2 121.7L265.7 118.0L268.2 109.1L270.7 106.4L273.2 104.3L275.7 103.2L278.2 101.5L280.7 98.9L283.2 97.2L285.7 96.0L288.2 79.9L290.7 93.1L293.2 101.2L295.7 106.2L298.2 105.0L300.7 111.7L303.2 113.3L305.7 112.4L308.2 115.3L310.7 121.3L313.2 122.4L315.7 120.8L318.2 123.1L320.7 122.8L323.2 125.0L325.7 121.1L328.2 121.2L330.7 124.7L333.2 122.4L335.7 125.6L338.2 124.1L340.7 125.4L343.2 126.3L345.7 126.3L348.2 128.1L350.7 124.2L353.2 127.9L355.7 128.1L358.2 130.2L360.7 130.5L363.2 128.5L365.7 129.7L368.2 131.2L370.7 130.5L373.2 135.4L375.7 130.1L378.2 133.0L380.7 138.7L383.2 136.3L385.7 139.5L388.2 140.4L390.7 143.8L393.2 141.3L395.7 145.1L398.2 142.6L400.7 143.5L403.2 144.2L405.7 141.6L408.2 141.6L410.7 143.3L413.2 143.4L415.7 142.8L418.2 141.4L420.7 144.2L423.2 147.5L425.7 148.3L428.2 143.9L430.7 144.7L433.2 147.7L435.7 144.8L438.2 143.8L440.7 143.1L443.2 143.6L445.7 146.6L448.2 142.6L450.7 144.3L453.2 142.0L455.7 145.2L458.2 140.5L460.7 142.9L463.2 147.0L465.7 145.6L468.2 149.0L470.7 148.9L473.2 144.5L475.7 148.7L478.2 147.4L480.7 147.6L483.2 143.0L485.7 146.6L488.2 144.1L490.7 143.4L493.2 143.1L495.7 146.1L498.2 147.9L500.7 147.7L503.2 149.5L505.7 150.6L508.2 147.0L510.7 147.9L513.2 149.5L515.7 150.6L518.2 151.9L520.7 154.0L523.2 153.6L525.7 152.3L528.2 153.3L530.7 154.7L533.2 156.6L535.7 157.1L538.2 155.1L540.7 161.6L543.2 161.2L545.7 160.4L548.2 159.7L550.7 158.4L553.2 161.0L555.7 159.1L558.2 162.3L560.7 162.2L563.2 156.4L565.7 160.0L568.2 159.9L570.7 159.2L573.2 160.4L575.7 162.2L578.2 162.7L580.7 163.7L583.2 165.0L585.7 161.7L588.2 161.9L590.7 164.2L593.2 164.9L595.7 163.9L598.2 162.3L600.7 165.3L603.2 165.5L605.7 164.8L608.2 164.7L610.7 162.6L613.2 164.6L615.7 166.0L618.2 168.3L620.7 168.6L623.2 169.6L625.7 165.8L628.2 169.3L630.7 168.8L633.2 167.1L635.7 167.4L638.2 167.5L640.7 166.6L643.2 168.2L645.7 165.3L648.2 165.5L650.7 168.5L653.2 169.1L655.7 167.7L658.2 172.2L660.7 172.5L663.2 169.4L665.7 168.0L668.2 171.8L670.7 171.8L673.2 168.6L675.7 171.2L678.2 171.7L680.7 171.8L683.2 175.9L685.7 171.9L688.2 173.5L690.7 176.8L693.2 171.9L695.7 173.9L698.2 175.0L700.7 172.1L703.2 173.4L705.7 171.3L708.2 174.4L710.7 173.6L713.2 172.8L715.7 174.5L718.2 173.9L720.7 173.9L723.2 172.7L725.7 172.0L728.2 173.5L730.7 171.9L733.2 171.0L735.7 173.4L738.2 174.0L740.7 175.1L743.2 177.0L745.7 176.4L748.2 175.9L750.7 175.6L753.2 178.3L755.7 178.4L758.2 178.0L760.7 177.0L763.2 177.4L765.7 175.9L768.2 174.9L770.7 172.6L773.2 173.7L775.7 173.7L778.2 178.4L780.7 176.7L783.2 176.1L785.7 179.0L788.2 174.9L790.7 175.7L793.2 178.2L795.7 177.6L798.2 180.4L800.7 179.5L803.2 181.3L805.7 178.9L808.2 177.8L810.7 178.4L813.2 180.2L815.7 179.8L818.2 182.2L820.7 180.5L823.2 180.1L825.7 176.6L828.2 176.1L830.7 180.8L833.2 180.5L835.7 179.1L838.2 181.0L840.7 180.1L843.2 177.9L845.7 178.6L848.2 178.4L850.7 180.1L853.2 179.3L855.7 180.4L858.2 180.3L860.7 180.6L863.2 180.0L865.7 180.6L868.2 180.0L870.7 180.6L873.2 182.2L875.7 181.3L878.2 176.6L880.7 180.1L883.2 180.2L885.7 179.1L888.2 179.3L890.7 180.2L893.2 179.7L895.7 181.5L898.2 182.5L900.7 182.6L903.2 181.3L905.7 181.2L908.2 180.3L910.7 178.9L913.2 181.9L915.7 182.7L918.2 181.6L920.7 180.3L923.2 181.1L925.7 181.9L928.2 181.1L930.7 181.3L933.2 181.7L935.7 180.3L938.2 179.9L940.7 178.4L943.2 180.1L945.7 183.1L948.2 182.1L950.7 179.3L953.2 179.8L955.7 181.4L958.2 180.6L960.7 181.5L963.2 179.8L965.7 180.3L968.2 181.4L970.7 180.3L973.2 181.4L973.2 194.7L970.7 194.6L968.2 192.1L965.7 195.0L963.2 193.2L960.7 194.9L958.2 191.3L955.7 192.3L953.2 195.3L950.7 195.1L948.2 196.6L945.7 192.4L943.2 192.5L940.7 193.5L938.2 193.3L935.7 192.0L933.2 192.5L930.7 193.9L928.2 191.7L925.7 192.9L923.2 193.6L920.7 191.2L918.2 192.0L915.7 192.0L913.2 191.1L910.7 191.7L908.2 192.1L905.7 193.7L903.2 192.6L900.7 192.4L898.2 192.1L895.7 193.2L893.2 195.1L890.7 192.0L888.2 193.2L885.7 189.4L883.2 190.3L880.7 189.9L878.2 192.0L875.7 192.1L873.2 195.3L870.7 192.8L868.2 192.0L865.7 195.3L863.2 196.2L860.7 193.7L858.2 191.7L855.7 192.0L853.2 194.8L850.7 194.4L848.2 193.9L845.7 192.9L843.2 192.4L840.7 193.3L838.2 190.8L835.7 193.3L833.2 193.1L830.7 193.9L828.2 190.7L825.7 193.4L823.2 190.2L820.7 191.2L818.2 195.1L815.7 191.6L813.2 189.9L810.7 189.1L808.2 191.3L805.7 194.5L803.2 191.1L800.7 190.1L798.2 190.6L795.7 189.3L793.2 190.8L790.7 189.0L788.2 189.5L785.7 188.4L783.2 188.9L780.7 192.1L778.2 192.0L775.7 187.4L773.2 186.1L770.7 188.0L768.2 189.0L765.7 190.1L763.2 187.1L760.7 191.5L758.2 188.6L755.7 188.1L753.2 191.6L750.7 188.8L748.2 188.5L745.7 189.4L743.2 186.9L740.7 187.0L738.2 186.7L735.7 183.9L733.2 187.0L730.7 186.7L728.2 187.5L725.7 185.4L723.2 185.3L720.7 185.8L718.2 185.4L715.7 189.2L713.2 189.4L710.7 188.1L708.2 188.2L705.7 188.4L703.2 187.1L700.7 188.8L698.2 187.5L695.7 190.0L693.2 186.7L690.7 188.2L688.2 190.1L685.7 187.1L683.2 188.7L680.7 188.7L678.2 187.0L675.7 183.2L673.2 184.4L670.7 184.0L668.2 183.0L665.7 182.7L663.2 182.2L660.7 184.3L658.2 182.9L655.7 180.7L653.2 183.3L650.7 183.9L648.2 183.4L645.7 182.2L643.2 181.3L640.7 181.6L638.2 181.3L635.7 179.8L633.2 182.8L630.7 182.9L628.2 179.3L625.7 179.6L623.2 180.3L620.7 182.3L618.2 182.9L615.7 179.3L613.2 179.8L610.7 178.4L608.2 176.4L605.7 177.6L603.2 178.1L600.7 178.9L598.2 176.0L595.7 175.9L593.2 180.7L590.7 177.4L588.2 179.8L585.7 178.0L583.2 178.6L580.7 178.8L578.2 175.0L575.7 177.1L573.2 179.1L570.7 174.7L568.2 173.7L565.7 175.3L563.2 172.6L560.7 175.5L558.2 175.8L555.7 175.3L553.2 173.7L550.7 177.6L548.2 175.3L545.7 171.7L543.2 172.5L540.7 176.0L538.2 172.2L535.7 170.2L533.2 169.3L530.7 170.2L528.2 167.1L525.7 165.2L523.2 165.7L520.7 169.6L518.2 169.8L515.7 166.3L513.2 168.6L510.7 164.9L508.2 163.3L505.7 167.2L503.2 165.8L500.7 166.1L498.2 164.6L495.7 162.0L493.2 159.2L490.7 164.6L488.2 164.4L485.7 163.5L483.2 160.3L480.7 162.0L478.2 160.4L475.7 163.2L473.2 163.3L470.7 161.3L468.2 166.7L465.7 166.8L463.2 160.9L460.7 159.0L458.2 160.8L455.7 162.0L453.2 161.4L450.7 160.5L448.2 161.9L445.7 162.0L443.2 165.7L440.7 162.8L438.2 161.2L435.7 160.7L433.2 165.4L430.7 161.9L428.2 161.8L425.7 162.8L423.2 161.5L420.7 163.8L418.2 163.9L415.7 161.9L413.2 158.6L410.7 158.5L408.2 158.7L405.7 160.2L403.2 161.4L400.7 162.3L398.2 158.4L395.7 162.7L393.2 157.1L390.7 157.0L388.2 156.6L385.7 154.5L383.2 153.9L380.7 151.5L378.2 152.1L375.7 150.0L373.2 150.5L370.7 149.2L368.2 149.2L365.7 150.4L363.2 146.4L360.7 145.8L358.2 145.1L355.7 146.0L353.2 142.6L350.7 142.9L348.2 144.7L345.7 140.5L343.2 139.3L340.7 139.8L338.2 138.1L335.7 141.6L333.2 138.4L330.7 141.9L328.2 139.8L325.7 139.0L323.2 142.5L320.7 137.0L318.2 139.7L315.7 137.1L313.2 135.9L310.7 135.6L308.2 132.6L305.7 130.7L303.2 133.2L300.7 126.4L298.2 125.2L295.7 124.3L293.2 116.7L290.7 112.7L288.2 98.2L285.7 111.5L283.2 113.5L280.7 115.3L278.2 115.7L275.7 123.5L273.2 120.8L270.7 126.8L268.2 131.5L265.7 132.9L263.2 134.3L260.7 137.6L258.2 137.9L255.7 140.0L253.2 144.1L250.7 142.5L248.2 144.6L245.7 146.0L243.2 146.8L240.7 147.4L238.2 149.6L235.7 150.6L233.2 158.3L230.7 153.1L228.2 154.0L225.7 156.4L223.2 158.9L220.7 157.8L218.2 158.9L215.7 160.2L213.2 164.7L210.7 162.0L208.2 158.9L205.7 160.6L203.2 157.6L200.7 160.4L198.2 160.9L195.7 157.4L193.2 156.2L190.7 159.2L188.2 158.0L185.7 157.5L183.2 154.3L180.7 156.1L178.2 154.0L175.7 154.7L173.2 153.3L170.7 153.3L168.2 150.7L165.7 153.9L163.2 149.4L160.7 150.4L158.2 149.5L155.7 150.0L153.2 150.9L150.7 151.8L148.2 150.4L145.7 153.7L143.2 148.5L140.7 146.5L138.2 147.3L135.7 150.3L133.2 146.2L130.7 149.1L128.2 150.6L125.7 151.2L123.2 152.1L120.7 157.1L118.2 154.8L115.7 160.9L113.2 162.5L110.7 164.3L108.2 158.4L105.7 159.7L103.2 159.7L100.7 162.0L98.2 160.5L95.7 164.2L93.2 163.2L90.7 162.7L88.2 162.5L85.7 163.7L83.2 164.1L80.7 164.2L78.2 164.2L75.7 168.4L73.2 165.5L70.7 162.9L68.2 166.9Z" fill="#ff00ff" stroke="#ff00ff" stroke-width="1.4" stroke-linejoin="round"/>
</g>
<path d="M256.6 165.0V561.6" stroke="#000" stroke-width="5.5" stroke-linecap="round" stroke-dasharray="17.2 16.6 2 17.2 2 17.1" fill="none"/>
<path d="M284.9 168.9V565.5" stroke="#000" stroke-width="5.5" stroke-linecap="round" stroke-dasharray="17.2 16.6 2 17.2 2 17.1" fill="none"/>
<g stroke="#000" stroke-width="6" stroke-linecap="round">
<line x1="68.5" y1="670.4" x2="68.5" y2="684.0"/>
<line x1="133.2" y1="670.4" x2="133.2" y2="677.4"/>
<line x1="197.9" y1="670.4" x2="197.9" y2="684.0"/>
<line x1="262.6" y1="670.4" x2="262.6" y2="677.4"/>
<line x1="327.4" y1="670.4" x2="327.4" y2="684.0"/>
<line x1="392.1" y1="670.4" x2="392.1" y2="677.4"/>
<line x1="456.8" y1="670.4" x2="456.8" y2="684.0"/>
<line x1="521.5" y1="670.4" x2="521.5" y2="677.4"/>
<line x1="586.2" y1="670.4" x2="586.2" y2="684.0"/>
<line x1="650.9" y1="670.4" x2="650.9" y2="677.4"/>
<line x1="715.6" y1="670.4" x2="715.6" y2="684.0"/>
<line x1="780.4" y1="670.4" x2="780.4" y2="677.4"/>
<line x1="845.1" y1="670.4" x2="845.1" y2="684.0"/>
<line x1="909.8" y1="670.4" x2="909.8" y2="677.4"/>
<line x1="974.5" y1="670.4" x2="974.5" y2="684.0"/>
</g>
<g font-size="41.7" text-anchor="middle">
<text transform="translate(68.2 725.7) scale(0.99 1)">10</text>
<text transform="translate(197.6 725.7) scale(0.99 1)">20</text>
<text transform="translate(327.1 725.7) scale(0.99 1)">30</text>
<text transform="translate(456.5 725.7) scale(0.99 1)">40</text>
<text transform="translate(585.9 725.7) scale(0.99 1)">50</text>
<text transform="translate(715.3 725.7) scale(0.99 1)">60</text>
<text transform="translate(844.8 725.7) scale(0.99 1)">70</text>
<text transform="translate(974.2 725.7) scale(0.99 1)">80</text>
</g>
<text transform="translate(376.6 786) scale(0.973 1)" font-size="55.5">2<tspan class="th" font-size="51.5" stroke="#000" stroke-width="0.7" dx="0.8">θ</tspan><tspan dx="1"> (Degree)</tspan></text>
<text transform="translate(45.6 556.5) rotate(-90)" font-size="56.8" textLength="366" lengthAdjust="spacingAndGlyphs">Intensity (a.u.)</text>
<g font-size="42.2" text-anchor="middle">
<text transform="translate(275 56.0) scale(0.985 1)">(002)</text>
<text transform="translate(501.2 105.3) scale(0.985 1)">(100)</text>
<text transform="translate(844.5 160.6) scale(0.985 1)">GN</text>
<text transform="translate(840.9 291.5) scale(0.967 1)">BCN-4</text>
<text transform="translate(840.5 385.1) scale(0.972 1)">BCN-3</text>
<text transform="translate(840.2 461.5) scale(0.976 1)">BCN-2</text>
<text transform="translate(843.9 529.8) scale(0.948 1)">BCN-1</text>
<text transform="translate(845.6 627.5) scale(0.995 1)">BN</text>
</g>
</svg>
</body></html>
